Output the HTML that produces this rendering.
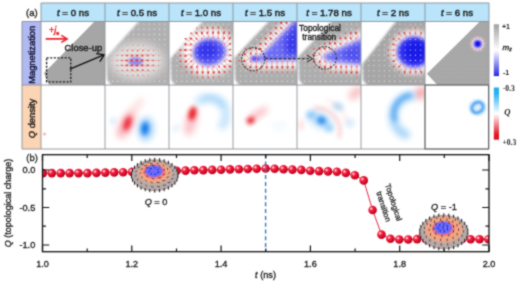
<!DOCTYPE html>
<html><head><meta charset="utf-8"><title>Figure</title>
<style>html,body{margin:0;padding:0;background:#fff;overflow:hidden}svg{display:block}</style>
</head><body>
<svg width="520" height="282" viewBox="0 0 520 282" font-family='"Liberation Sans", Arial, sans-serif'>
<defs>
<filter id="b1" x="-50%" y="-50%" width="200%" height="200%"><feGaussianBlur stdDeviation="1"/></filter>
<filter id="b2" x="-50%" y="-50%" width="200%" height="200%"><feGaussianBlur stdDeviation="2"/></filter>
<filter id="b3" x="-50%" y="-50%" width="200%" height="200%"><feGaussianBlur stdDeviation="3"/></filter>
<filter id="b4" x="-50%" y="-50%" width="200%" height="200%"><feGaussianBlur stdDeviation="4"/></filter>
<filter id="b05" x="-50%" y="-50%" width="200%" height="200%"><feGaussianBlur stdDeviation="0.5"/></filter>
<filter id="b08" x="-50%" y="-50%" width="200%" height="200%"><feGaussianBlur stdDeviation="0.8"/></filter>
<filter id="soft" x="-5%" y="-5%" width="110%" height="110%"><feGaussianBlur stdDeviation="0.45"/></filter>
<radialGradient id="sph" cx="0.34" cy="0.34" r="0.72">
<stop offset="0" stop-color="#fff4f4"/><stop offset="0.1" stop-color="#ffc0c8"/><stop offset="0.24" stop-color="#f63c58"/><stop offset="0.5" stop-color="#ea1030"/><stop offset="0.8" stop-color="#cc0824"/><stop offset="1" stop-color="#94001a"/></radialGradient>
<linearGradient id="cbm" x1="0" y1="0" x2="0" y2="1"><stop offset="0" stop-color="#a0a0a0"/><stop offset="0.5" stop-color="#ffffff"/><stop offset="1" stop-color="#2828e4"/></linearGradient>
<linearGradient id="cbq" x1="0" y1="0" x2="0" y2="1"><stop offset="0" stop-color="#1cb0f0"/><stop offset="0.12" stop-color="#2ab4f0"/><stop offset="0.5" stop-color="#ffffff"/><stop offset="0.9" stop-color="#e61824"/><stop offset="1" stop-color="#e0101c"/></linearGradient>
<marker id="ah" viewBox="0 0 10 10" refX="6" refY="5" markerWidth="3.2" markerHeight="3.2" orient="auto"><path d="M0,0 L10,5 L0,10 z" fill="#e8282c"/></marker>
</defs>
<rect width="520" height="282" fill="#fff"/>
<filter id="gsoft" x="0" y="0" width="520" height="282" filterUnits="userSpaceOnUse" color-interpolation-filters="sRGB"><feConvolveMatrix order="3" kernelMatrix="1 2 1 2 9 2 1 2 1" edgeMode="duplicate" preserveAlpha="false"/></filter>
<g filter="url(#gsoft)">
<rect width="520" height="282" fill="#fff"/>
<rect x="41" y="3" width="448" height="18" fill="#b9e4fa"/>
<rect x="22" y="21.5" width="19" height="63.5" fill="#b0b9f2"/>
<rect x="22" y="85" width="19" height="64" fill="#fcd5b4"/>
<clipPath id="cp0"><rect x="41" y="21" width="64" height="64"/></clipPath>
<clipPath id="cq0"><rect x="41" y="85" width="64" height="64"/></clipPath>
<clipPath id="cp1"><rect x="105" y="21" width="64" height="64"/></clipPath>
<clipPath id="cq1"><rect x="105" y="85" width="64" height="64"/></clipPath>
<clipPath id="cp2"><rect x="169" y="21" width="64" height="64"/></clipPath>
<clipPath id="cq2"><rect x="169" y="85" width="64" height="64"/></clipPath>
<clipPath id="cp3"><rect x="233" y="21" width="64" height="64"/></clipPath>
<clipPath id="cq3"><rect x="233" y="85" width="64" height="64"/></clipPath>
<clipPath id="cp4"><rect x="297" y="21" width="64" height="64"/></clipPath>
<clipPath id="cq4"><rect x="297" y="85" width="64" height="64"/></clipPath>
<clipPath id="cp5"><rect x="361" y="21" width="64" height="64"/></clipPath>
<clipPath id="cq5"><rect x="361" y="85" width="64" height="64"/></clipPath>
<clipPath id="cp6"><rect x="425" y="21" width="64" height="64"/></clipPath>
<clipPath id="cq6"><rect x="425" y="85" width="64" height="64"/></clipPath>
<g clip-path="url(#cp0)">
<polygon points="95,21 105,21 105,85 49,85 44,73" fill="#a6a6a6" filter="url(#soft)"/>
</g>
<g clip-path="url(#cp1)">
<polygon points="140,20 170,20 170,86 111.5,86 107,79.5 106.2,57.5" fill="#b1b1b1" filter="url(#b08)"/>
<ellipse cx="137" cy="61" rx="27" ry="18" transform="rotate(0 137 61)" fill="#ffffff" opacity="0.62" filter="url(#b4)" />
<ellipse cx="135.5" cy="61.5" rx="7.5" ry="4.2" transform="rotate(0 135.5 61.5)" fill="#8a8af4" opacity="0.95" filter="url(#b1)" />
<g fill="#ececec" opacity="0.9"><circle cx="138.7" cy="24.0" r="0.6"/><circle cx="143.9" cy="24.0" r="0.6"/><circle cx="149.1" cy="24.0" r="0.6"/><circle cx="154.3" cy="24.0" r="0.6"/><circle cx="159.5" cy="24.0" r="0.6"/><circle cx="164.7" cy="24.0" r="0.6"/><circle cx="133.5" cy="29.2" r="0.6"/><circle cx="138.7" cy="29.2" r="0.6"/><circle cx="143.9" cy="29.2" r="0.6"/><circle cx="149.1" cy="29.2" r="0.6"/><circle cx="154.3" cy="29.2" r="0.6"/><circle cx="159.5" cy="29.2" r="0.6"/><circle cx="164.7" cy="29.2" r="0.6"/><circle cx="128.3" cy="34.4" r="0.6"/><circle cx="133.5" cy="34.4" r="0.6"/><circle cx="138.7" cy="34.4" r="0.6"/><circle cx="143.9" cy="34.4" r="0.6"/><circle cx="149.1" cy="34.4" r="0.6"/><circle cx="154.3" cy="34.4" r="0.6"/><circle cx="159.5" cy="34.4" r="0.6"/><circle cx="164.7" cy="34.4" r="0.6"/><circle cx="123.1" cy="39.6" r="0.6"/><circle cx="128.3" cy="39.6" r="0.6"/><circle cx="133.5" cy="39.6" r="0.6"/><circle cx="138.7" cy="39.6" r="0.6"/><circle cx="143.9" cy="39.6" r="0.6"/><circle cx="149.1" cy="39.6" r="0.6"/><circle cx="154.3" cy="39.6" r="0.6"/><circle cx="159.5" cy="39.6" r="0.6"/><circle cx="164.7" cy="39.6" r="0.6"/><circle cx="117.9" cy="44.8" r="0.6"/><circle cx="123.1" cy="44.8" r="0.6"/><circle cx="128.3" cy="44.8" r="0.6"/><circle cx="133.5" cy="44.8" r="0.6"/><circle cx="138.7" cy="44.8" r="0.6"/><circle cx="143.9" cy="44.8" r="0.6"/><circle cx="149.1" cy="44.8" r="0.6"/><circle cx="154.3" cy="44.8" r="0.6"/><circle cx="159.5" cy="44.8" r="0.6"/><circle cx="164.7" cy="44.8" r="0.6"/><circle cx="117.9" cy="50.0" r="0.6"/><circle cx="123.1" cy="50.0" r="0.6"/><circle cx="128.3" cy="50.0" r="0.6"/><circle cx="133.5" cy="50.0" r="0.6"/><circle cx="138.7" cy="50.0" r="0.6"/><circle cx="143.9" cy="50.0" r="0.6"/><circle cx="149.1" cy="50.0" r="0.6"/><circle cx="154.3" cy="50.0" r="0.6"/><circle cx="159.5" cy="50.0" r="0.6"/><circle cx="164.7" cy="50.0" r="0.6"/><circle cx="112.7" cy="55.2" r="0.6"/><circle cx="117.9" cy="55.2" r="0.6"/><circle cx="123.1" cy="55.2" r="0.6"/><circle cx="128.3" cy="55.2" r="0.6"/><circle cx="133.5" cy="55.2" r="0.6"/><circle cx="138.7" cy="55.2" r="0.6"/><circle cx="143.9" cy="55.2" r="0.6"/><circle cx="149.1" cy="55.2" r="0.6"/><circle cx="154.3" cy="55.2" r="0.6"/><circle cx="159.5" cy="55.2" r="0.6"/><circle cx="164.7" cy="55.2" r="0.6"/><circle cx="107.5" cy="60.4" r="0.6"/><circle cx="112.7" cy="60.4" r="0.6"/><circle cx="117.9" cy="60.4" r="0.6"/><circle cx="123.1" cy="60.4" r="0.6"/><circle cx="128.3" cy="60.4" r="0.6"/><circle cx="133.5" cy="60.4" r="0.6"/><circle cx="138.7" cy="60.4" r="0.6"/><circle cx="143.9" cy="60.4" r="0.6"/><circle cx="149.1" cy="60.4" r="0.6"/><circle cx="154.3" cy="60.4" r="0.6"/><circle cx="159.5" cy="60.4" r="0.6"/><circle cx="164.7" cy="60.4" r="0.6"/><circle cx="107.5" cy="65.6" r="0.6"/><circle cx="112.7" cy="65.6" r="0.6"/><circle cx="117.9" cy="65.6" r="0.6"/><circle cx="123.1" cy="65.6" r="0.6"/><circle cx="128.3" cy="65.6" r="0.6"/><circle cx="133.5" cy="65.6" r="0.6"/><circle cx="138.7" cy="65.6" r="0.6"/><circle cx="143.9" cy="65.6" r="0.6"/><circle cx="149.1" cy="65.6" r="0.6"/><circle cx="154.3" cy="65.6" r="0.6"/><circle cx="159.5" cy="65.6" r="0.6"/><circle cx="164.7" cy="65.6" r="0.6"/><circle cx="107.5" cy="70.8" r="0.6"/><circle cx="112.7" cy="70.8" r="0.6"/><circle cx="117.9" cy="70.8" r="0.6"/><circle cx="123.1" cy="70.8" r="0.6"/><circle cx="128.3" cy="70.8" r="0.6"/><circle cx="133.5" cy="70.8" r="0.6"/><circle cx="138.7" cy="70.8" r="0.6"/><circle cx="143.9" cy="70.8" r="0.6"/><circle cx="149.1" cy="70.8" r="0.6"/><circle cx="154.3" cy="70.8" r="0.6"/><circle cx="159.5" cy="70.8" r="0.6"/><circle cx="164.7" cy="70.8" r="0.6"/><circle cx="107.5" cy="76.0" r="0.6"/><circle cx="112.7" cy="76.0" r="0.6"/><circle cx="117.9" cy="76.0" r="0.6"/><circle cx="123.1" cy="76.0" r="0.6"/><circle cx="128.3" cy="76.0" r="0.6"/><circle cx="133.5" cy="76.0" r="0.6"/><circle cx="138.7" cy="76.0" r="0.6"/><circle cx="143.9" cy="76.0" r="0.6"/><circle cx="149.1" cy="76.0" r="0.6"/><circle cx="154.3" cy="76.0" r="0.6"/><circle cx="159.5" cy="76.0" r="0.6"/><circle cx="164.7" cy="76.0" r="0.6"/><circle cx="112.7" cy="81.2" r="0.6"/><circle cx="117.9" cy="81.2" r="0.6"/><circle cx="123.1" cy="81.2" r="0.6"/><circle cx="128.3" cy="81.2" r="0.6"/><circle cx="133.5" cy="81.2" r="0.6"/><circle cx="138.7" cy="81.2" r="0.6"/><circle cx="143.9" cy="81.2" r="0.6"/><circle cx="149.1" cy="81.2" r="0.6"/><circle cx="154.3" cy="81.2" r="0.6"/><circle cx="159.5" cy="81.2" r="0.6"/><circle cx="164.7" cy="81.2" r="0.6"/></g>
<g filter="url(#b05)"><path d="M129.0,38.5L128.2,39.8" stroke="#f6988c" stroke-width="0.85" opacity="0.3147815159964582"/><path d="M127.6,40.7L127.8,39.6L128.6,40.1z" fill="#e23034" opacity="0.3147815159964582"/><path d="M134.2,38.5L133.4,39.8" stroke="#f6988c" stroke-width="0.85" opacity="0.34349961543450935"/><path d="M132.8,40.7L133.0,39.6L133.8,40.1z" fill="#e23034" opacity="0.34349961543450935"/><path d="M139.4,38.5L138.6,39.8" stroke="#f6988c" stroke-width="0.85" opacity="0.3517982179936051"/><path d="M138.0,40.7L138.2,39.6L139.0,40.1z" fill="#e23034" opacity="0.3517982179936051"/><path d="M144.6,38.5L143.8,39.8" stroke="#f6988c" stroke-width="0.85" opacity="0.3375548718659858"/><path d="M143.2,40.7L143.4,39.6L144.2,40.1z" fill="#e23034" opacity="0.3375548718659858"/><path d="M149.8,38.5L149.0,39.8" stroke="#f6988c" stroke-width="0.85" opacity="0.30439808320350514"/><path d="M148.4,40.7L148.6,39.6L149.4,40.1z" fill="#e23034" opacity="0.30439808320350514"/><path d="M118.9,43.9L117.7,45.0" stroke="#f6988c" stroke-width="0.85" opacity="0.3496801520235783"/><path d="M116.9,45.7L117.4,44.6L118.0,45.3z" fill="#e23034" opacity="0.3496801520235783"/><path d="M124.1,43.9L122.9,45.0" stroke="#f6988c" stroke-width="0.85" opacity="0.4390701652693965"/><path d="M122.1,45.7L122.6,44.6L123.2,45.3z" fill="#e23034" opacity="0.4390701652693965"/><path d="M129.4,43.8L128.1,45.0" stroke="#f6988c" stroke-width="0.85" opacity="0.5184370208339604"/><path d="M127.2,45.8L127.7,44.6L128.5,45.4z" fill="#e23034" opacity="0.5184370208339604"/><path d="M134.7,43.6L133.3,45.0" stroke="#f6988c" stroke-width="0.85" opacity="0.5712088354903284"/><path d="M132.3,46.0L132.8,44.6L133.7,45.5z" fill="#e23034" opacity="0.5712088354903284"/><path d="M140.0,43.6L138.4,45.0" stroke="#f6988c" stroke-width="0.85" opacity="0.5862359642404706"/><path d="M137.4,46.0L138.0,44.6L138.9,45.5z" fill="#e23034" opacity="0.5862359642404706"/><path d="M145.1,43.6L143.7,45.0" stroke="#f6988c" stroke-width="0.85" opacity="0.5603830693136163"/><path d="M142.7,46.0L143.2,44.6L144.1,45.5z" fill="#e23034" opacity="0.5603830693136163"/><path d="M150.1,43.8L148.9,45.0" stroke="#f6988c" stroke-width="0.85" opacity="0.4990596115883237"/><path d="M148.1,45.8L148.5,44.6L149.2,45.4z" fill="#e23034" opacity="0.4990596115883237"/><path d="M155.3,43.9L154.1,45.0" stroke="#f6988c" stroke-width="0.85" opacity="0.41524258472081305"/><path d="M153.3,45.7L153.8,44.6L154.4,45.3z" fill="#e23034" opacity="0.41524258472081305"/><path d="M160.5,43.9L159.3,45.0" stroke="#f6988c" stroke-width="0.85" opacity="0.32616991674297335"/><path d="M158.5,45.7L159.0,44.6L159.6,45.3z" fill="#e23034" opacity="0.32616991674297335"/><path d="M119.2,49.3L117.6,50.1" stroke="#f6988c" stroke-width="0.85" opacity="0.505861861741168"/><path d="M116.6,50.7L117.4,49.7L117.9,50.6z" fill="#e23034" opacity="0.505861861741168"/><path d="M124.8,49.0L122.8,50.2" stroke="#f6988c" stroke-width="0.85" opacity="0.6423033196509038"/><path d="M121.4,51.0L122.4,49.6L123.1,50.8z" fill="#e23034" opacity="0.6423033196509038"/><path d="M130.4,48.8L127.9,50.2" stroke="#f6988c" stroke-width="0.85" opacity="0.7578629371641623"/><path d="M126.2,51.2L127.4,49.5L128.3,51.0z" fill="#e23034" opacity="0.7578629371641623"/><path d="M135.8,48.7L133.0,50.3" stroke="#f6988c" stroke-width="0.85" opacity="0.8314962843976338"/><path d="M131.2,51.3L132.5,49.4L133.5,51.1z" fill="#e23034" opacity="0.8314962843976338"/><path d="M141.1,48.6L138.2,50.3" stroke="#f6988c" stroke-width="0.85" opacity="0.8519436866624825"/><path d="M136.3,51.4L137.7,49.4L138.7,51.1z" fill="#e23034" opacity="0.8519436866624825"/><path d="M146.2,48.7L143.4,50.3" stroke="#f6988c" stroke-width="0.85" opacity="0.8166174761426069"/><path d="M141.6,51.3L143.0,49.4L143.9,51.1z" fill="#e23034" opacity="0.8166174761426069"/><path d="M151.1,48.8L148.7,50.2" stroke="#f6988c" stroke-width="0.85" opacity="0.7301595609855125"/><path d="M147.1,51.2L148.3,49.5L149.1,51.0z" fill="#e23034" opacity="0.7301595609855125"/><path d="M155.9,49.1L154.0,50.2" stroke="#f6988c" stroke-width="0.85" opacity="0.6065679716879124"/><path d="M152.7,50.9L153.6,49.6L154.3,50.8z" fill="#e23034" opacity="0.6065679716879124"/><path d="M160.7,49.3L159.3,50.1" stroke="#f6988c" stroke-width="0.85" opacity="0.46890069392860956"/><path d="M158.3,50.7L159.0,49.7L159.5,50.5z" fill="#e23034" opacity="0.46890069392860956"/><path d="M165.9,49.3L164.5,50.1" stroke="#f6988c" stroke-width="0.85" opacity="0.34228616039873516"/><path d="M163.5,50.7L164.2,49.7L164.7,50.5z" fill="#e23034" opacity="0.34228616039873516"/><path d="M114.0,54.8L112.4,55.3" stroke="#f6988c" stroke-width="0.85" opacity="0.47253007870531866"/><path d="M111.4,55.6L112.3,54.8L112.6,55.7z" fill="#e23034" opacity="0.47253007870531866"/><path d="M119.8,54.6L117.5,55.3" stroke="#f6988c" stroke-width="0.85" opacity="0.6438013184721487"/><path d="M116.0,55.8L117.3,54.6L117.7,56.0z" fill="#e23034" opacity="0.6438013184721487"/><path d="M125.6,54.5L122.6,55.3" stroke="#f6988c" stroke-width="0.85" opacity="0.8131481795938664"/><path d="M120.6,55.9L122.3,54.4L122.9,56.3z" fill="#e23034" opacity="0.8131481795938664"/><path d="M131.3,54.3L127.7,55.4" stroke="#f6988c" stroke-width="0.85" opacity="0.948144056089979"/><path d="M125.3,56.1L127.4,54.3L128.0,56.5z" fill="#e23034" opacity="0.948144056089979"/><path d="M136.8,54.2L132.8,55.4" stroke="#f6988c" stroke-width="0.85" opacity="1"/><path d="M130.2,56.2L132.5,54.2L133.2,56.6z" fill="#e23034" opacity="1"/><path d="M142.1,54.2L138.0,55.4" stroke="#f6988c" stroke-width="0.85" opacity="1"/><path d="M135.3,56.2L137.7,54.2L138.4,56.6z" fill="#e23034" opacity="1"/><path d="M147.2,54.2L143.2,55.4" stroke="#f6988c" stroke-width="0.85" opacity="1"/><path d="M140.6,56.2L142.9,54.2L143.6,56.6z" fill="#e23034" opacity="1"/><path d="M152.0,54.3L148.5,55.4" stroke="#f6988c" stroke-width="0.85" opacity="0.91668594325461"/><path d="M146.2,56.1L148.2,54.3L148.8,56.4z" fill="#e23034" opacity="0.91668594325461"/><path d="M156.7,54.5L153.8,55.3" stroke="#f6988c" stroke-width="0.85" opacity="0.7696846074864019"/><path d="M151.9,55.9L153.6,54.5L154.1,56.2z" fill="#e23034" opacity="0.7696846074864019"/><path d="M161.2,54.7L159.2,55.3" stroke="#f6988c" stroke-width="0.85" opacity="0.596475244875422"/><path d="M157.8,55.7L159.0,54.7L159.3,55.9z" fill="#e23034" opacity="0.596475244875422"/><path d="M166.0,54.8L164.4,55.3" stroke="#f6988c" stroke-width="0.85" opacity="0.430190713505755"/><path d="M163.4,55.6L164.3,54.8L164.6,55.7z" fill="#e23034" opacity="0.430190713505755"/><path d="M108.8,60.3L107.2,60.4" stroke="#f6988c" stroke-width="0.85" opacity="0.3605278141027673"/><path d="M106.2,60.5L107.2,59.9L107.3,60.9z" fill="#e23034" opacity="0.3605278141027673"/><path d="M114.2,60.3L112.4,60.4" stroke="#f6988c" stroke-width="0.85" opacity="0.5220798845828851"/><path d="M111.2,60.5L112.4,59.9L112.4,61.0z" fill="#e23034" opacity="0.5220798845828851"/><path d="M120.1,60.3L117.5,60.4" stroke="#f6988c" stroke-width="0.85" opacity="0.711034790405621"/><path d="M115.7,60.5L117.4,59.6L117.5,61.2z" fill="#e23034" opacity="0.711034790405621"/><path d="M126.0,60.3L122.5,60.4" stroke="#f6988c" stroke-width="0.85" opacity="0.8927038675673061"/><path d="M120.2,60.5L122.5,59.4L122.6,61.5z" fill="#e23034" opacity="0.8927038675673061"/><path d="M131.8,60.2L127.6,60.4" stroke="#f6988c" stroke-width="0.85" opacity="1"/><path d="M124.8,60.6L127.5,59.2L127.7,61.7z" fill="#e23034" opacity="1"/><path d="M137.2,60.2L132.8,60.4" stroke="#f6988c" stroke-width="0.85" opacity="1"/><path d="M129.8,60.6L132.7,59.1L132.8,61.8z" fill="#e23034" opacity="1"/><path d="M142.5,60.2L137.9,60.4" stroke="#f6988c" stroke-width="0.85" opacity="1"/><path d="M134.9,60.6L137.9,59.1L138.0,61.8z" fill="#e23034" opacity="1"/><path d="M147.6,60.2L143.2,60.4" stroke="#f6988c" stroke-width="0.85" opacity="1"/><path d="M140.2,60.6L143.1,59.1L143.2,61.8z" fill="#e23034" opacity="1"/><path d="M152.4,60.2L148.4,60.4" stroke="#f6988c" stroke-width="0.85" opacity="0.9993972163596896"/><path d="M145.8,60.6L148.4,59.2L148.5,61.6z" fill="#e23034" opacity="0.9993972163596896"/><path d="M157.1,60.3L153.7,60.4" stroke="#f6988c" stroke-width="0.85" opacity="0.8467273963103151"/><path d="M151.5,60.5L153.7,59.4L153.8,61.4z" fill="#e23034" opacity="0.8467273963103151"/><path d="M161.5,60.3L159.1,60.4" stroke="#f6988c" stroke-width="0.85" opacity="0.6592576367614035"/><path d="M157.5,60.5L159.1,59.7L159.1,61.2z" fill="#e23034" opacity="0.6592576367614035"/><path d="M166.0,60.3L164.4,60.4" stroke="#f6988c" stroke-width="0.85" opacity="0.47474675352204276"/><path d="M163.4,60.5L164.4,59.9L164.5,60.9z" fill="#e23034" opacity="0.47474675352204276"/><path d="M108.8,65.8L107.2,65.6" stroke="#f6988c" stroke-width="0.85" opacity="0.34720690357622064"/><path d="M106.2,65.4L107.3,65.1L107.1,66.0z" fill="#e23034" opacity="0.34720690357622064"/><path d="M114.1,65.9L112.4,65.5" stroke="#f6988c" stroke-width="0.85" opacity="0.5013398495719243"/><path d="M111.3,65.3L112.5,65.0L112.3,66.1z" fill="#e23034" opacity="0.5013398495719243"/><path d="M120.0,66.0L117.5,65.5" stroke="#f6988c" stroke-width="0.85" opacity="0.683079093508468"/><path d="M115.8,65.2L117.6,64.8L117.3,66.3z" fill="#e23034" opacity="0.683079093508468"/><path d="M125.9,66.1L122.5,65.5" stroke="#f6988c" stroke-width="0.85" opacity="0.8599760335394597"/><path d="M120.3,65.1L122.7,64.5L122.4,66.5z" fill="#e23034" opacity="0.8599760335394597"/><path d="M131.6,66.2L127.6,65.5" stroke="#f6988c" stroke-width="0.85" opacity="0.997394399077582"/><path d="M125.0,65.0L127.9,64.3L127.4,66.7z" fill="#e23034" opacity="0.997394399077582"/><path d="M137.1,66.3L132.8,65.5" stroke="#f6988c" stroke-width="0.85" opacity="1"/><path d="M129.9,64.9L133.0,64.2L132.5,66.7z" fill="#e23034" opacity="1"/><path d="M142.3,66.3L138.0,65.5" stroke="#f6988c" stroke-width="0.85" opacity="1"/><path d="M135.1,64.9L138.2,64.2L137.7,66.8z" fill="#e23034" opacity="1"/><path d="M147.4,66.3L143.2,65.5" stroke="#f6988c" stroke-width="0.85" opacity="1"/><path d="M140.4,64.9L143.4,64.2L143.0,66.7z" fill="#e23034" opacity="1"/><path d="M152.3,66.2L148.5,65.5" stroke="#f6988c" stroke-width="0.85" opacity="0.965835927605697"/><path d="M145.9,65.0L148.7,64.3L148.3,66.6z" fill="#e23034" opacity="0.965835927605697"/><path d="M156.9,66.1L153.8,65.5" stroke="#f6988c" stroke-width="0.85" opacity="0.8149219954151318"/><path d="M151.7,65.1L154.0,64.6L153.6,66.4z" fill="#e23034" opacity="0.8149219954151318"/><path d="M161.4,66.0L159.1,65.5" stroke="#f6988c" stroke-width="0.85" opacity="0.6330989869303375"/><path d="M157.6,65.2L159.2,64.8L159.0,66.2z" fill="#e23034" opacity="0.6330989869303375"/><path d="M166.0,65.8L164.4,65.6" stroke="#f6988c" stroke-width="0.85" opacity="0.45607049775364766"/><path d="M163.4,65.4L164.5,65.1L164.3,66.0z" fill="#e23034" opacity="0.45607049775364766"/><path d="M108.7,71.3L107.3,70.7" stroke="#f6988c" stroke-width="0.85" opacity="0.29539011437239737"/><path d="M106.3,70.3L107.5,70.3L107.1,71.1z" fill="#e23034" opacity="0.29539011437239737"/><path d="M113.9,71.3L112.5,70.7" stroke="#f6988c" stroke-width="0.85" opacity="0.41928410532480076"/><path d="M111.5,70.3L112.7,70.3L112.3,71.1z" fill="#e23034" opacity="0.41928410532480076"/><path d="M119.5,71.5L117.6,70.7" stroke="#f6988c" stroke-width="0.85" opacity="0.5699021287439379"/><path d="M116.3,70.1L117.8,70.1L117.3,71.2z" fill="#e23034" opacity="0.5699021287439379"/><path d="M125.2,71.7L122.7,70.6" stroke="#f6988c" stroke-width="0.85" opacity="0.7227434122498073"/><path d="M121.0,69.9L123.0,69.9L122.3,71.4z" fill="#e23034" opacity="0.7227434122498073"/><path d="M130.8,71.9L127.8,70.6" stroke="#f6988c" stroke-width="0.85" opacity="0.849089753277048"/><path d="M125.8,69.7L128.2,69.7L127.4,71.5z" fill="#e23034" opacity="0.849089753277048"/><path d="M136.3,72.1L132.9,70.5" stroke="#f6988c" stroke-width="0.85" opacity="0.927500494770891"/><path d="M130.7,69.5L133.4,69.5L132.5,71.6z" fill="#e23034" opacity="0.927500494770891"/><path d="M141.6,72.1L138.1,70.5" stroke="#f6988c" stroke-width="0.85" opacity="0.948877709978959"/><path d="M135.8,69.5L138.6,69.5L137.7,71.6z" fill="#e23034" opacity="0.948877709978959"/><path d="M146.6,72.0L143.4,70.6" stroke="#f6988c" stroke-width="0.85" opacity="0.9118246780621109"/><path d="M141.2,69.6L143.8,69.6L142.9,71.5z" fill="#e23034" opacity="0.9118246780621109"/><path d="M151.5,71.9L148.6,70.6" stroke="#f6988c" stroke-width="0.85" opacity="0.8191178321699425"/><path d="M146.7,69.7L149.0,69.7L148.2,71.5z" fill="#e23034" opacity="0.8191178321699425"/><path d="M156.3,71.7L153.9,70.6" stroke="#f6988c" stroke-width="0.85" opacity="0.6830504964264628"/><path d="M152.3,69.9L154.2,69.9L153.6,71.3z" fill="#e23034" opacity="0.6830504964264628"/><path d="M160.9,71.4L159.2,70.7" stroke="#f6988c" stroke-width="0.85" opacity="0.5279394273425536"/><path d="M158.1,70.2L159.4,70.2L159.0,71.2z" fill="#e23034" opacity="0.5279394273425536"/><path d="M165.9,71.3L164.5,70.7" stroke="#f6988c" stroke-width="0.85" opacity="0.3825493628977368"/><path d="M163.5,70.3L164.7,70.3L164.3,71.1z" fill="#e23034" opacity="0.3825493628977368"/><path d="M113.8,76.8L112.5,75.8" stroke="#f6988c" stroke-width="0.85" opacity="0.3107359403191746"/><path d="M111.6,75.2L112.8,75.5L112.2,76.2z" fill="#e23034" opacity="0.3107359403191746"/><path d="M119.0,76.8L117.7,75.8" stroke="#f6988c" stroke-width="0.85" opacity="0.414172081338762"/><path d="M116.8,75.2L118.0,75.5L117.4,76.2z" fill="#e23034" opacity="0.414172081338762"/><path d="M124.3,76.9L122.9,75.8" stroke="#f6988c" stroke-width="0.85" opacity="0.5241528318062811"/><path d="M121.9,75.1L123.2,75.4L122.5,76.2z" fill="#e23034" opacity="0.5241528318062811"/><path d="M129.8,77.2L128.0,75.8" stroke="#f6988c" stroke-width="0.85" opacity="0.6200271817236938"/><path d="M126.8,74.8L128.4,75.2L127.6,76.3z" fill="#e23034" opacity="0.6200271817236938"/><path d="M135.2,77.3L133.2,75.7" stroke="#f6988c" stroke-width="0.85" opacity="0.6827931690830189"/><path d="M131.8,74.7L133.6,75.1L132.7,76.3z" fill="#e23034" opacity="0.6827931690830189"/><path d="M140.4,77.4L138.4,75.7" stroke="#f6988c" stroke-width="0.85" opacity="0.7005122046510983"/><path d="M137.0,74.6L138.8,75.1L137.9,76.4z" fill="#e23034" opacity="0.7005122046510983"/><path d="M145.6,77.3L143.6,75.7" stroke="#f6988c" stroke-width="0.85" opacity="0.6699847581246726"/><path d="M142.2,74.7L144.0,75.1L143.1,76.3z" fill="#e23034" opacity="0.6699847581246726"/><path d="M150.5,77.1L148.8,75.8" stroke="#f6988c" stroke-width="0.85" opacity="0.5967783296080499"/><path d="M147.7,74.9L149.2,75.3L148.4,76.3z" fill="#e23034" opacity="0.5967783296080499"/><path d="M155.4,76.9L154.1,75.8" stroke="#f6988c" stroke-width="0.85" opacity="0.49504084207851295"/><path d="M153.2,75.1L154.4,75.4L153.8,76.2z" fill="#e23034" opacity="0.49504084207851295"/><path d="M160.6,76.8L159.3,75.8" stroke="#f6988c" stroke-width="0.85" opacity="0.3848970336998166"/><path d="M158.4,75.2L159.6,75.5L159.0,76.2z" fill="#e23034" opacity="0.3848970336998166"/><path d="M165.8,76.8L164.5,75.8" stroke="#f6988c" stroke-width="0.85" opacity="0.2861842991349761"/><path d="M163.6,75.2L164.8,75.5L164.2,76.2z" fill="#e23034" opacity="0.2861842991349761"/><path d="M123.9,82.2L122.9,81.0" stroke="#f6988c" stroke-width="0.85" opacity="0.3353527043554908"/><path d="M122.3,80.2L123.3,80.7L122.6,81.3z" fill="#e23034" opacity="0.3353527043554908"/><path d="M129.1,82.2L128.1,81.0" stroke="#f6988c" stroke-width="0.85" opacity="0.39220889037094214"/><path d="M127.5,80.2L128.5,80.7L127.8,81.3z" fill="#e23034" opacity="0.39220889037094214"/><path d="M134.3,82.2L133.3,81.0" stroke="#f6988c" stroke-width="0.85" opacity="0.43067471856518197"/><path d="M132.7,80.2L133.7,80.7L133.0,81.3z" fill="#e23034" opacity="0.43067471856518197"/><path d="M139.5,82.2L138.5,81.0" stroke="#f6988c" stroke-width="0.85" opacity="0.4417291482616657"/><path d="M137.9,80.2L138.9,80.7L138.2,81.3z" fill="#e23034" opacity="0.4417291482616657"/><path d="M144.7,82.2L143.7,81.0" stroke="#f6988c" stroke-width="0.85" opacity="0.4227391385067084"/><path d="M143.1,80.2L144.1,80.7L143.4,81.3z" fill="#e23034" opacity="0.4227391385067084"/><path d="M149.9,82.2L148.9,81.0" stroke="#f6988c" stroke-width="0.85" opacity="0.37821910999631886"/><path d="M148.3,80.2L149.3,80.7L148.6,81.3z" fill="#e23034" opacity="0.37821910999631886"/><path d="M155.1,82.2L154.1,81.0" stroke="#f6988c" stroke-width="0.85" opacity="0.3185098930138637"/><path d="M153.5,80.2L154.5,80.7L153.8,81.3z" fill="#e23034" opacity="0.3185098930138637"/></g>
</g>
<g clip-path="url(#cp2)">
<polygon points="204,20 234,20 234,86 175.5,86 171,79.5 170.2,59" fill="#b0b0b0" filter="url(#b08)"/>
<ellipse cx="209.5" cy="52" rx="27" ry="24" transform="rotate(-10 209.5 52)" fill="#ffffff" opacity="0.95" filter="url(#b3)" />
<ellipse cx="194" cy="46" rx="14" ry="12" transform="rotate(-45 194 46)" fill="#ffffff" opacity="0.55" filter="url(#b4)" />
<ellipse cx="209.5" cy="52" rx="16.5" ry="13.5" transform="rotate(-10 209.5 52)" fill="#5858f4" opacity="1" filter="url(#b2)" />
<ellipse cx="207.5" cy="50.5" rx="10" ry="8" transform="rotate(0 207.5 50.5)" fill="#2c2cea" opacity="0.75" filter="url(#b2)" />
<g fill="#ececec" opacity="0.9"><circle cx="202.7" cy="24.0" r="0.6"/><circle cx="207.9" cy="24.0" r="0.6"/><circle cx="213.1" cy="24.0" r="0.6"/><circle cx="218.3" cy="24.0" r="0.6"/><circle cx="223.5" cy="24.0" r="0.6"/><circle cx="228.7" cy="24.0" r="0.6"/><circle cx="197.5" cy="29.2" r="0.6"/><circle cx="202.7" cy="29.2" r="0.6"/><circle cx="207.9" cy="29.2" r="0.6"/><circle cx="213.1" cy="29.2" r="0.6"/><circle cx="218.3" cy="29.2" r="0.6"/><circle cx="223.5" cy="29.2" r="0.6"/><circle cx="228.7" cy="29.2" r="0.6"/><circle cx="192.3" cy="34.4" r="0.6"/><circle cx="197.5" cy="34.4" r="0.6"/><circle cx="202.7" cy="34.4" r="0.6"/><circle cx="207.9" cy="34.4" r="0.6"/><circle cx="213.1" cy="34.4" r="0.6"/><circle cx="218.3" cy="34.4" r="0.6"/><circle cx="223.5" cy="34.4" r="0.6"/><circle cx="228.7" cy="34.4" r="0.6"/><circle cx="187.1" cy="39.6" r="0.6"/><circle cx="192.3" cy="39.6" r="0.6"/><circle cx="197.5" cy="39.6" r="0.6"/><circle cx="202.7" cy="39.6" r="0.6"/><circle cx="207.9" cy="39.6" r="0.6"/><circle cx="213.1" cy="39.6" r="0.6"/><circle cx="218.3" cy="39.6" r="0.6"/><circle cx="223.5" cy="39.6" r="0.6"/><circle cx="228.7" cy="39.6" r="0.6"/><circle cx="187.1" cy="44.8" r="0.6"/><circle cx="192.3" cy="44.8" r="0.6"/><circle cx="197.5" cy="44.8" r="0.6"/><circle cx="202.7" cy="44.8" r="0.6"/><circle cx="207.9" cy="44.8" r="0.6"/><circle cx="213.1" cy="44.8" r="0.6"/><circle cx="218.3" cy="44.8" r="0.6"/><circle cx="223.5" cy="44.8" r="0.6"/><circle cx="228.7" cy="44.8" r="0.6"/><circle cx="181.9" cy="50.0" r="0.6"/><circle cx="187.1" cy="50.0" r="0.6"/><circle cx="192.3" cy="50.0" r="0.6"/><circle cx="197.5" cy="50.0" r="0.6"/><circle cx="202.7" cy="50.0" r="0.6"/><circle cx="207.9" cy="50.0" r="0.6"/><circle cx="213.1" cy="50.0" r="0.6"/><circle cx="218.3" cy="50.0" r="0.6"/><circle cx="223.5" cy="50.0" r="0.6"/><circle cx="228.7" cy="50.0" r="0.6"/><circle cx="176.7" cy="55.2" r="0.6"/><circle cx="181.9" cy="55.2" r="0.6"/><circle cx="187.1" cy="55.2" r="0.6"/><circle cx="192.3" cy="55.2" r="0.6"/><circle cx="197.5" cy="55.2" r="0.6"/><circle cx="202.7" cy="55.2" r="0.6"/><circle cx="207.9" cy="55.2" r="0.6"/><circle cx="213.1" cy="55.2" r="0.6"/><circle cx="218.3" cy="55.2" r="0.6"/><circle cx="223.5" cy="55.2" r="0.6"/><circle cx="228.7" cy="55.2" r="0.6"/><circle cx="171.5" cy="60.4" r="0.6"/><circle cx="176.7" cy="60.4" r="0.6"/><circle cx="181.9" cy="60.4" r="0.6"/><circle cx="187.1" cy="60.4" r="0.6"/><circle cx="192.3" cy="60.4" r="0.6"/><circle cx="197.5" cy="60.4" r="0.6"/><circle cx="202.7" cy="60.4" r="0.6"/><circle cx="207.9" cy="60.4" r="0.6"/><circle cx="213.1" cy="60.4" r="0.6"/><circle cx="218.3" cy="60.4" r="0.6"/><circle cx="223.5" cy="60.4" r="0.6"/><circle cx="228.7" cy="60.4" r="0.6"/><circle cx="171.5" cy="65.6" r="0.6"/><circle cx="176.7" cy="65.6" r="0.6"/><circle cx="181.9" cy="65.6" r="0.6"/><circle cx="187.1" cy="65.6" r="0.6"/><circle cx="192.3" cy="65.6" r="0.6"/><circle cx="197.5" cy="65.6" r="0.6"/><circle cx="202.7" cy="65.6" r="0.6"/><circle cx="207.9" cy="65.6" r="0.6"/><circle cx="213.1" cy="65.6" r="0.6"/><circle cx="218.3" cy="65.6" r="0.6"/><circle cx="223.5" cy="65.6" r="0.6"/><circle cx="228.7" cy="65.6" r="0.6"/><circle cx="171.5" cy="70.8" r="0.6"/><circle cx="176.7" cy="70.8" r="0.6"/><circle cx="181.9" cy="70.8" r="0.6"/><circle cx="187.1" cy="70.8" r="0.6"/><circle cx="192.3" cy="70.8" r="0.6"/><circle cx="197.5" cy="70.8" r="0.6"/><circle cx="202.7" cy="70.8" r="0.6"/><circle cx="207.9" cy="70.8" r="0.6"/><circle cx="213.1" cy="70.8" r="0.6"/><circle cx="218.3" cy="70.8" r="0.6"/><circle cx="223.5" cy="70.8" r="0.6"/><circle cx="228.7" cy="70.8" r="0.6"/><circle cx="171.5" cy="76.0" r="0.6"/><circle cx="176.7" cy="76.0" r="0.6"/><circle cx="181.9" cy="76.0" r="0.6"/><circle cx="187.1" cy="76.0" r="0.6"/><circle cx="192.3" cy="76.0" r="0.6"/><circle cx="197.5" cy="76.0" r="0.6"/><circle cx="202.7" cy="76.0" r="0.6"/><circle cx="207.9" cy="76.0" r="0.6"/><circle cx="213.1" cy="76.0" r="0.6"/><circle cx="218.3" cy="76.0" r="0.6"/><circle cx="223.5" cy="76.0" r="0.6"/><circle cx="228.7" cy="76.0" r="0.6"/><circle cx="176.7" cy="81.2" r="0.6"/><circle cx="181.9" cy="81.2" r="0.6"/><circle cx="187.1" cy="81.2" r="0.6"/><circle cx="192.3" cy="81.2" r="0.6"/><circle cx="197.5" cy="81.2" r="0.6"/><circle cx="202.7" cy="81.2" r="0.6"/><circle cx="207.9" cy="81.2" r="0.6"/><circle cx="213.1" cy="81.2" r="0.6"/><circle cx="218.3" cy="81.2" r="0.6"/><circle cx="223.5" cy="81.2" r="0.6"/><circle cx="228.7" cy="81.2" r="0.6"/></g>
<g filter="url(#b05)"><path d="M199.0,31.5L197.2,28.7" stroke="#f6988c" stroke-width="0.9" opacity="0.5768376713964365"/><path d="M196.0,26.9L198.0,28.2L196.4,29.3z" fill="#e23034" opacity="0.5768376713964365"/><path d="M204.1,32.0L202.4,28.6" stroke="#f6988c" stroke-width="0.9" opacity="0.7658334309265274"/><path d="M201.3,26.4L203.4,28.1L201.4,29.1z" fill="#e23034" opacity="0.7658334309265274"/><path d="M208.9,32.4L207.7,28.6" stroke="#f6988c" stroke-width="0.9" opacity="0.8764000058907053"/><path d="M206.9,26.0L208.8,28.2L206.5,28.9z" fill="#e23034" opacity="0.8764000058907053"/><path d="M213.6,32.5L213.0,28.5" stroke="#f6988c" stroke-width="0.9" opacity="0.8923373608190891"/><path d="M212.6,25.9L214.2,28.4L211.8,28.7z" fill="#e23034" opacity="0.8923373608190891"/><path d="M218.3,32.4L218.3,28.6" stroke="#f6988c" stroke-width="0.9" opacity="0.8147688406494439"/><path d="M218.3,26.0L219.5,28.6L217.1,28.5z" fill="#e23034" opacity="0.8147688406494439"/><path d="M223.0,32.1L223.6,28.6" stroke="#f6988c" stroke-width="0.9" opacity="0.6472319118205685"/><path d="M224.0,26.3L224.6,28.8L222.6,28.5z" fill="#e23034" opacity="0.6472319118205685"/><path d="M228.0,31.6L228.8,28.7" stroke="#f6988c" stroke-width="0.9" opacity="0.4473117479013411"/><path d="M229.4,26.8L229.7,29.0L228.0,28.5z" fill="#e23034" opacity="0.4473117479013411"/><path d="M194.6,36.6L191.8,34.0" stroke="#f6988c" stroke-width="0.9" opacity="0.8217179501380981"/><path d="M190.0,32.2L192.6,33.1L191.0,34.8z" fill="#e23034" opacity="0.8217179501380981"/><path d="M199.8,37.3L197.0,33.8" stroke="#f6988c" stroke-width="0.9" opacity="1"/><path d="M195.2,31.5L198.1,33.0L196.0,34.6z" fill="#e23034" opacity="1"/><path d="M204.5,37.7L202.3,33.7" stroke="#f6988c" stroke-width="0.9" opacity="1"/><path d="M200.9,31.1L203.5,33.1L201.1,34.4z" fill="#e23034" opacity="1"/><path d="M209.0,37.9L207.7,33.7" stroke="#f6988c" stroke-width="0.9" opacity="1"/><path d="M206.8,30.9L208.9,33.3L206.4,34.1z" fill="#e23034" opacity="1"/><path d="M213.5,38.0L213.0,33.7" stroke="#f6988c" stroke-width="0.9" opacity="1"/><path d="M212.7,30.8L214.3,33.5L211.7,33.8z" fill="#e23034" opacity="1"/><path d="M218.0,38.1L218.4,33.7" stroke="#f6988c" stroke-width="0.9" opacity="1"/><path d="M218.6,30.7L219.7,33.8L217.0,33.5z" fill="#e23034" opacity="1"/><path d="M222.5,38.0L223.7,33.7" stroke="#f6988c" stroke-width="0.9" opacity="1"/><path d="M224.5,30.8L225.0,34.0L222.4,33.3z" fill="#e23034" opacity="1"/><path d="M227.3,37.4L229.0,33.8" stroke="#f6988c" stroke-width="0.9" opacity="0.8804555700589247"/><path d="M230.1,31.4L230.1,34.3L227.9,33.3z" fill="#e23034" opacity="0.8804555700589247"/><path d="M190.0,41.2L186.5,39.3" stroke="#f6988c" stroke-width="0.9" opacity="0.8662548074135965"/><path d="M184.2,38.0L187.1,38.2L185.9,40.3z" fill="#e23034" opacity="0.8662548074135965"/><path d="M195.4,41.8L191.7,39.2" stroke="#f6988c" stroke-width="0.9" opacity="1"/><path d="M189.2,37.4L192.5,38.0L190.9,40.3z" fill="#e23034" opacity="1"/><path d="M199.9,42.0L197.0,39.1" stroke="#f6988c" stroke-width="0.9" opacity="0.8937146058060188"/><path d="M195.1,37.2L197.9,38.3L196.2,40.0z" fill="#e23034" opacity="0.8937146058060188"/><path d="M204.3,41.9L202.4,39.1" stroke="#f6988c" stroke-width="0.9" opacity="0.6055775095673824"/><path d="M201.1,37.3L203.2,38.6L201.5,39.7z" fill="#e23034" opacity="0.6055775095673824"/><path d="M208.8,42.0L207.7,39.1" stroke="#f6988c" stroke-width="0.9" opacity="0.4677829114411705"/><path d="M207.0,37.2L208.6,38.8L206.9,39.4z" fill="#e23034" opacity="0.4677829114411705"/><path d="M213.2,42.1L213.1,39.1" stroke="#f6988c" stroke-width="0.9" opacity="0.46702182355468924"/><path d="M213.0,37.1L214.0,39.0L212.2,39.1z" fill="#e23034" opacity="0.46702182355468924"/><path d="M217.7,42.3L218.4,39.1" stroke="#f6988c" stroke-width="0.9" opacity="0.602895681783851"/><path d="M218.9,36.9L219.4,39.3L217.4,38.8z" fill="#e23034" opacity="0.602895681783851"/><path d="M222.0,42.6L223.8,39.0" stroke="#f6988c" stroke-width="0.9" opacity="0.8898102659201701"/><path d="M225.0,36.6L224.9,39.5L222.7,38.5z" fill="#e23034" opacity="0.8898102659201701"/><path d="M226.4,42.7L229.2,39.0" stroke="#f6988c" stroke-width="0.9" opacity="1"/><path d="M231.0,36.5L230.3,39.8L228.0,38.2z" fill="#e23034" opacity="1"/><path d="M190.7,45.9L186.4,44.6" stroke="#f6988c" stroke-width="0.9" opacity="1"/><path d="M183.5,43.7L186.8,43.3L186.0,45.9z" fill="#e23034" opacity="1"/><path d="M195.4,46.1L191.7,44.5" stroke="#f6988c" stroke-width="0.9" opacity="0.8917458266397092"/><path d="M189.2,43.5L192.1,43.4L191.2,45.7z" fill="#e23034" opacity="0.8917458266397092"/><path d="M199.7,46.1L197.1,44.5" stroke="#f6988c" stroke-width="0.9" opacity="0.47706385316022987"/><path d="M195.3,43.5L197.5,43.8L196.6,45.3z" fill="#e23034" opacity="0.47706385316022987"/><path d="M221.7,46.7L223.9,44.4" stroke="#f6988c" stroke-width="0.9" opacity="0.5279296628906178"/><path d="M225.3,42.9L224.6,45.1L223.2,43.8z" fill="#e23034" opacity="0.5279296628906178"/><path d="M225.9,46.9L229.3,44.4" stroke="#f6988c" stroke-width="0.9" opacity="0.9560811253240424"/><path d="M231.5,42.7L230.0,45.4L228.5,43.4z" fill="#e23034" opacity="0.9560811253240424"/><path d="M185.2,50.0L181.2,50.0" stroke="#f6988c" stroke-width="0.9" opacity="0.8580734860695829"/><path d="M178.6,50.0L181.2,48.8L181.3,51.2z" fill="#e23034" opacity="0.8580734860695829"/><path d="M190.9,50.0L186.3,50.0" stroke="#f6988c" stroke-width="0.9" opacity="1"/><path d="M183.3,50.0L186.4,48.6L186.3,51.4z" fill="#e23034" opacity="1"/><path d="M195.2,50.1L191.7,50.0" stroke="#f6988c" stroke-width="0.9" opacity="0.6687186865426856"/><path d="M189.4,49.9L191.8,48.9L191.7,51.0z" fill="#e23034" opacity="0.6687186865426856"/><path d="M225.6,50.9L229.3,49.8" stroke="#f6988c" stroke-width="0.9" opacity="0.8327397026388587"/><path d="M231.8,49.1L229.6,51.0L229.0,48.7z" fill="#e23034" opacity="0.8327397026388587"/><path d="M179.1,54.6L176.2,55.3" stroke="#f6988c" stroke-width="0.9" opacity="0.42791516350384073"/><path d="M174.3,55.8L176.0,54.5L176.5,56.2z" fill="#e23034" opacity="0.42791516350384073"/><path d="M185.1,54.2L181.3,55.4" stroke="#f6988c" stroke-width="0.9" opacity="0.8835579969380569"/><path d="M178.7,56.2L180.9,54.2L181.6,56.6z" fill="#e23034" opacity="0.8835579969380569"/><path d="M190.7,54.0L186.4,55.4" stroke="#f6988c" stroke-width="0.9" opacity="1"/><path d="M183.5,56.4L186.0,54.2L186.8,56.7z" fill="#e23034" opacity="1"/><path d="M195.0,54.1L191.8,55.4" stroke="#f6988c" stroke-width="0.9" opacity="0.6527492313334267"/><path d="M189.6,56.3L191.4,54.5L192.2,56.4z" fill="#e23034" opacity="0.6527492313334267"/><path d="M221.1,54.7L224.0,55.3" stroke="#f6988c" stroke-width="0.9" opacity="0.4419093456560006"/><path d="M225.9,55.7L223.8,56.2L224.2,54.4z" fill="#e23034" opacity="0.4419093456560006"/><path d="M225.3,54.8L229.4,55.3" stroke="#f6988c" stroke-width="0.9" opacity="0.8959655463679982"/><path d="M232.1,55.6L229.2,56.5L229.5,54.1z" fill="#e23034" opacity="0.8959655463679982"/><path d="M184.6,58.7L181.4,60.7" stroke="#f6988c" stroke-width="0.9" opacity="0.7720512265270335"/><path d="M179.2,62.1L180.8,59.8L182.0,61.7z" fill="#e23034" opacity="0.7720512265270335"/><path d="M190.1,58.1L186.5,60.9" stroke="#f6988c" stroke-width="0.9" opacity="1"/><path d="M184.1,62.7L185.7,59.8L187.3,61.9z" fill="#e23034" opacity="1"/><path d="M194.6,58.1L191.8,60.9" stroke="#f6988c" stroke-width="0.9" opacity="0.84934761843135"/><path d="M190.0,62.7L191.0,60.0L192.7,61.7z" fill="#e23034" opacity="0.84934761843135"/><path d="M198.9,58.3L197.2,60.8" stroke="#f6988c" stroke-width="0.9" opacity="0.4680612899287191"/><path d="M196.1,62.5L196.5,60.3L198.0,61.3z" fill="#e23034" opacity="0.4680612899287191"/><path d="M220.9,58.9L224.0,60.7" stroke="#f6988c" stroke-width="0.9" opacity="0.699106729679462"/><path d="M226.1,61.9L223.5,61.6L224.6,59.8z" fill="#e23034" opacity="0.699106729679462"/><path d="M225.3,58.9L229.4,60.7" stroke="#f6988c" stroke-width="0.9" opacity="1"/><path d="M232.1,61.9L228.9,61.9L229.9,59.5z" fill="#e23034" opacity="1"/><path d="M183.8,63.7L181.5,66.0" stroke="#f6988c" stroke-width="0.9" opacity="0.5466958461668395"/><path d="M180.0,67.5L180.8,65.3L182.2,66.7z" fill="#e23034" opacity="0.5466958461668395"/><path d="M189.3,62.9L186.7,66.1" stroke="#f6988c" stroke-width="0.9" opacity="0.9518181872090771"/><path d="M184.9,68.3L185.7,65.4L187.7,66.9z" fill="#e23034" opacity="0.9518181872090771"/><path d="M194.2,62.3L191.9,66.3" stroke="#f6988c" stroke-width="0.9" opacity="1"/><path d="M190.4,68.9L190.7,65.6L193.1,66.9z" fill="#e23034" opacity="1"/><path d="M198.6,62.4L197.3,66.2" stroke="#f6988c" stroke-width="0.9" opacity="0.8783231789241095"/><path d="M196.4,68.8L196.1,65.9L198.4,66.6z" fill="#e23034" opacity="0.8783231789241095"/><path d="M202.9,62.7L202.7,66.2" stroke="#f6988c" stroke-width="0.9" opacity="0.6493850330382746"/><path d="M202.5,68.5L201.6,66.1L203.7,66.3z" fill="#e23034" opacity="0.6493850330382746"/><path d="M207.4,62.9L208.0,66.1" stroke="#f6988c" stroke-width="0.9" opacity="0.5632583679379728"/><path d="M208.4,68.3L207.0,66.3L209.0,66.0z" fill="#e23034" opacity="0.5632583679379728"/><path d="M211.9,63.0L213.3,66.1" stroke="#f6988c" stroke-width="0.9" opacity="0.6226918831952805"/><path d="M214.3,68.2L212.4,66.5L214.3,65.7z" fill="#e23034" opacity="0.6226918831952805"/><path d="M216.3,63.0L218.7,66.1" stroke="#f6988c" stroke-width="0.9" opacity="0.8296823771076122"/><path d="M220.3,68.2L217.8,66.8L219.6,65.4z" fill="#e23034" opacity="0.8296823771076122"/><path d="M220.8,63.1L224.0,66.1" stroke="#f6988c" stroke-width="0.9" opacity="1"/><path d="M226.2,68.1L223.1,67.1L225.0,65.1z" fill="#e23034" opacity="1"/><path d="M225.7,63.5L229.3,66.0" stroke="#f6988c" stroke-width="0.9" opacity="1"/><path d="M231.7,67.7L228.5,67.1L230.0,64.9z" fill="#e23034" opacity="1"/><path d="M188.4,68.4L186.8,71.3" stroke="#f6988c" stroke-width="0.9" opacity="0.5773229337823318"/><path d="M185.8,73.2L186.0,70.8L187.7,71.7z" fill="#e23034" opacity="0.5773229337823318"/><path d="M193.4,67.6L192.1,71.4" stroke="#f6988c" stroke-width="0.9" opacity="0.8919268889414642"/><path d="M191.2,74.0L190.9,71.0L193.2,71.8z" fill="#e23034" opacity="0.8919268889414642"/><path d="M198.2,67.1L197.4,71.5" stroke="#f6988c" stroke-width="0.9" opacity="1"/><path d="M196.8,74.5L196.0,71.3L198.7,71.8z" fill="#e23034" opacity="1"/><path d="M202.7,67.0L202.7,71.6" stroke="#f6988c" stroke-width="0.9" opacity="1"/><path d="M202.7,74.6L201.3,71.6L204.1,71.5z" fill="#e23034" opacity="1"/><path d="M207.2,67.1L208.0,71.5" stroke="#f6988c" stroke-width="0.9" opacity="1"/><path d="M208.6,74.5L206.7,71.8L209.4,71.3z" fill="#e23034" opacity="1"/><path d="M211.7,67.3L213.4,71.5" stroke="#f6988c" stroke-width="0.9" opacity="1"/><path d="M214.5,74.3L212.1,72.0L214.7,71.0z" fill="#e23034" opacity="1"/><path d="M216.3,67.6L218.7,71.4" stroke="#f6988c" stroke-width="0.9" opacity="1"/><path d="M220.3,74.0L217.5,72.1L219.8,70.7z" fill="#e23034" opacity="1"/><path d="M221.3,68.2L223.9,71.3" stroke="#f6988c" stroke-width="0.9" opacity="0.8956981780063445"/><path d="M225.7,73.4L223.0,72.1L224.9,70.5z" fill="#e23034" opacity="0.8956981780063445"/><path d="M226.7,68.9L229.1,71.2" stroke="#f6988c" stroke-width="0.9" opacity="0.5815731241759479"/><path d="M230.7,72.7L228.4,71.9L229.8,70.4z" fill="#e23034" opacity="0.5815731241759479"/><path d="M192.9,73.6L192.2,76.5" stroke="#f6988c" stroke-width="0.9" opacity="0.43433182455353864"/><path d="M191.7,78.4L191.3,76.3L193.1,76.7z" fill="#e23034" opacity="0.43433182455353864"/><path d="M197.7,73.2L197.5,76.6" stroke="#f6988c" stroke-width="0.9" opacity="0.5936655752115818"/><path d="M197.3,78.8L196.5,76.5L198.4,76.6z" fill="#e23034" opacity="0.5936655752115818"/><path d="M202.5,73.0L202.7,76.6" stroke="#f6988c" stroke-width="0.9" opacity="0.716201696776988"/><path d="M202.9,79.0L201.6,76.7L203.8,76.5z" fill="#e23034" opacity="0.716201696776988"/><path d="M207.2,73.0L208.0,76.6" stroke="#f6988c" stroke-width="0.9" opacity="0.7554798634089581"/><path d="M208.6,79.0L206.9,76.8L209.1,76.4z" fill="#e23034" opacity="0.7554798634089581"/><path d="M212.1,73.2L213.3,76.6" stroke="#f6988c" stroke-width="0.9" opacity="0.7022828466101569"/><path d="M214.1,78.8L212.3,76.9L214.3,76.2z" fill="#e23034" opacity="0.7022828466101569"/><path d="M217.0,73.6L218.6,76.5" stroke="#f6988c" stroke-width="0.9" opacity="0.5699021304811924"/><path d="M219.6,78.4L217.7,76.9L219.4,76.0z" fill="#e23034" opacity="0.5699021304811924"/></g>
</g>
<g clip-path="url(#cp3)">
<polygon points="270,20 298,20 298,86 239.5,86 235,79.5 234.2,58" fill="#adadad" filter="url(#b08)"/>
<polygon points="249.5,58.5 261,55.5 296,19 300,19 300,60.5 256,61.5" fill="#ffffff" opacity="0.95" filter="url(#b3)" stroke="#fff" stroke-width="15" stroke-linejoin="round"/>
<polygon points="249.5,58.5 261,55.5 296,19 300,19 300,60.5 256,61.5" fill="#6666f4" opacity="0.95" filter="url(#b2)" />
<polygon points="285,40 296,24 300,22 300,54 286,54" fill="#2626ea" opacity="0.75" filter="url(#b3)" />
<ellipse cx="254.5" cy="58.5" rx="4.5" ry="2.6" transform="rotate(0 254.5 58.5)" fill="#5050f4" opacity="0.9" filter="url(#b1)" />
<g fill="#ececec" opacity="0.9"><circle cx="266.7" cy="24.0" r="0.6"/><circle cx="271.9" cy="24.0" r="0.6"/><circle cx="277.1" cy="24.0" r="0.6"/><circle cx="282.3" cy="24.0" r="0.6"/><circle cx="287.5" cy="24.0" r="0.6"/><circle cx="292.7" cy="24.0" r="0.6"/><circle cx="261.5" cy="29.2" r="0.6"/><circle cx="266.7" cy="29.2" r="0.6"/><circle cx="271.9" cy="29.2" r="0.6"/><circle cx="277.1" cy="29.2" r="0.6"/><circle cx="282.3" cy="29.2" r="0.6"/><circle cx="287.5" cy="29.2" r="0.6"/><circle cx="292.7" cy="29.2" r="0.6"/><circle cx="261.5" cy="34.4" r="0.6"/><circle cx="266.7" cy="34.4" r="0.6"/><circle cx="271.9" cy="34.4" r="0.6"/><circle cx="277.1" cy="34.4" r="0.6"/><circle cx="282.3" cy="34.4" r="0.6"/><circle cx="287.5" cy="34.4" r="0.6"/><circle cx="292.7" cy="34.4" r="0.6"/><circle cx="256.3" cy="39.6" r="0.6"/><circle cx="261.5" cy="39.6" r="0.6"/><circle cx="266.7" cy="39.6" r="0.6"/><circle cx="271.9" cy="39.6" r="0.6"/><circle cx="277.1" cy="39.6" r="0.6"/><circle cx="282.3" cy="39.6" r="0.6"/><circle cx="287.5" cy="39.6" r="0.6"/><circle cx="292.7" cy="39.6" r="0.6"/><circle cx="251.1" cy="44.8" r="0.6"/><circle cx="256.3" cy="44.8" r="0.6"/><circle cx="261.5" cy="44.8" r="0.6"/><circle cx="266.7" cy="44.8" r="0.6"/><circle cx="271.9" cy="44.8" r="0.6"/><circle cx="277.1" cy="44.8" r="0.6"/><circle cx="282.3" cy="44.8" r="0.6"/><circle cx="287.5" cy="44.8" r="0.6"/><circle cx="292.7" cy="44.8" r="0.6"/><circle cx="245.9" cy="50.0" r="0.6"/><circle cx="251.1" cy="50.0" r="0.6"/><circle cx="256.3" cy="50.0" r="0.6"/><circle cx="261.5" cy="50.0" r="0.6"/><circle cx="266.7" cy="50.0" r="0.6"/><circle cx="271.9" cy="50.0" r="0.6"/><circle cx="277.1" cy="50.0" r="0.6"/><circle cx="282.3" cy="50.0" r="0.6"/><circle cx="287.5" cy="50.0" r="0.6"/><circle cx="292.7" cy="50.0" r="0.6"/><circle cx="240.7" cy="55.2" r="0.6"/><circle cx="245.9" cy="55.2" r="0.6"/><circle cx="251.1" cy="55.2" r="0.6"/><circle cx="256.3" cy="55.2" r="0.6"/><circle cx="261.5" cy="55.2" r="0.6"/><circle cx="266.7" cy="55.2" r="0.6"/><circle cx="271.9" cy="55.2" r="0.6"/><circle cx="277.1" cy="55.2" r="0.6"/><circle cx="282.3" cy="55.2" r="0.6"/><circle cx="287.5" cy="55.2" r="0.6"/><circle cx="292.7" cy="55.2" r="0.6"/><circle cx="235.5" cy="60.4" r="0.6"/><circle cx="240.7" cy="60.4" r="0.6"/><circle cx="245.9" cy="60.4" r="0.6"/><circle cx="251.1" cy="60.4" r="0.6"/><circle cx="256.3" cy="60.4" r="0.6"/><circle cx="261.5" cy="60.4" r="0.6"/><circle cx="266.7" cy="60.4" r="0.6"/><circle cx="271.9" cy="60.4" r="0.6"/><circle cx="277.1" cy="60.4" r="0.6"/><circle cx="282.3" cy="60.4" r="0.6"/><circle cx="287.5" cy="60.4" r="0.6"/><circle cx="292.7" cy="60.4" r="0.6"/><circle cx="235.5" cy="65.6" r="0.6"/><circle cx="240.7" cy="65.6" r="0.6"/><circle cx="245.9" cy="65.6" r="0.6"/><circle cx="251.1" cy="65.6" r="0.6"/><circle cx="256.3" cy="65.6" r="0.6"/><circle cx="261.5" cy="65.6" r="0.6"/><circle cx="266.7" cy="65.6" r="0.6"/><circle cx="271.9" cy="65.6" r="0.6"/><circle cx="277.1" cy="65.6" r="0.6"/><circle cx="282.3" cy="65.6" r="0.6"/><circle cx="287.5" cy="65.6" r="0.6"/><circle cx="292.7" cy="65.6" r="0.6"/><circle cx="235.5" cy="70.8" r="0.6"/><circle cx="240.7" cy="70.8" r="0.6"/><circle cx="245.9" cy="70.8" r="0.6"/><circle cx="251.1" cy="70.8" r="0.6"/><circle cx="256.3" cy="70.8" r="0.6"/><circle cx="261.5" cy="70.8" r="0.6"/><circle cx="266.7" cy="70.8" r="0.6"/><circle cx="271.9" cy="70.8" r="0.6"/><circle cx="277.1" cy="70.8" r="0.6"/><circle cx="282.3" cy="70.8" r="0.6"/><circle cx="287.5" cy="70.8" r="0.6"/><circle cx="292.7" cy="70.8" r="0.6"/><circle cx="235.5" cy="76.0" r="0.6"/><circle cx="240.7" cy="76.0" r="0.6"/><circle cx="245.9" cy="76.0" r="0.6"/><circle cx="251.1" cy="76.0" r="0.6"/><circle cx="256.3" cy="76.0" r="0.6"/><circle cx="261.5" cy="76.0" r="0.6"/><circle cx="266.7" cy="76.0" r="0.6"/><circle cx="271.9" cy="76.0" r="0.6"/><circle cx="277.1" cy="76.0" r="0.6"/><circle cx="282.3" cy="76.0" r="0.6"/><circle cx="287.5" cy="76.0" r="0.6"/><circle cx="292.7" cy="76.0" r="0.6"/><circle cx="240.7" cy="81.2" r="0.6"/><circle cx="245.9" cy="81.2" r="0.6"/><circle cx="251.1" cy="81.2" r="0.6"/><circle cx="256.3" cy="81.2" r="0.6"/><circle cx="261.5" cy="81.2" r="0.6"/><circle cx="266.7" cy="81.2" r="0.6"/><circle cx="271.9" cy="81.2" r="0.6"/><circle cx="277.1" cy="81.2" r="0.6"/><circle cx="282.3" cy="81.2" r="0.6"/><circle cx="287.5" cy="81.2" r="0.6"/><circle cx="292.7" cy="81.2" r="0.6"/></g>
<g filter="url(#b05)"><path d="M279.0,25.8L276.7,23.6" stroke="#f6988c" stroke-width="0.9" opacity="0.5649763566872281"/><path d="M275.2,22.2L277.4,22.9L276.1,24.3z" fill="#e23034" opacity="0.5649763566872281"/><path d="M284.9,26.5L281.8,23.5" stroke="#f6988c" stroke-width="0.9" opacity="1"/><path d="M279.7,21.5L282.7,22.6L280.9,24.4z" fill="#e23034" opacity="1"/><path d="M290.0,26.4L287.0,23.5" stroke="#f6988c" stroke-width="0.9" opacity="0.9459283752060116"/><path d="M285.0,21.6L287.9,22.6L286.2,24.4z" fill="#e23034" opacity="0.9459283752060116"/><path d="M294.5,25.7L292.3,23.7" stroke="#f6988c" stroke-width="0.9" opacity="0.4667429208169026"/><path d="M290.9,22.3L293.0,23.0L291.7,24.3z" fill="#e23034" opacity="0.4667429208169026"/><path d="M273.8,31.0L271.5,28.8" stroke="#f6988c" stroke-width="0.9" opacity="0.5466369276226659"/><path d="M270.0,27.4L272.2,28.2L270.9,29.5z" fill="#e23034" opacity="0.5466369276226659"/><path d="M279.7,31.7L276.6,28.7" stroke="#f6988c" stroke-width="0.9" opacity="1"/><path d="M274.5,26.7L277.5,27.8L275.7,29.6z" fill="#e23034" opacity="1"/><path d="M284.8,31.6L281.8,28.7" stroke="#f6988c" stroke-width="0.9" opacity="0.9640099964871184"/><path d="M279.8,26.8L282.7,27.8L280.9,29.6z" fill="#e23034" opacity="0.9640099964871184"/><path d="M289.3,30.9L287.1,28.9" stroke="#f6988c" stroke-width="0.9" opacity="0.48210308538788205"/><path d="M285.7,27.5L287.8,28.2L286.5,29.5z" fill="#e23034" opacity="0.48210308538788205"/><path d="M268.6,36.2L266.3,34.0" stroke="#f6988c" stroke-width="0.9" opacity="0.5288741401455502"/><path d="M264.8,32.6L267.0,33.4L265.7,34.7z" fill="#e23034" opacity="0.5288741401455502"/><path d="M274.4,36.8L271.4,33.9" stroke="#f6988c" stroke-width="0.9" opacity="1"/><path d="M269.4,32.0L272.3,33.0L270.5,34.8z" fill="#e23034" opacity="1"/><path d="M279.6,36.8L276.6,33.9" stroke="#f6988c" stroke-width="0.9" opacity="0.9812734578844325"/><path d="M274.6,32.0L277.5,33.0L275.7,34.8z" fill="#e23034" opacity="0.9812734578844325"/><path d="M284.1,36.1L281.9,34.1" stroke="#f6988c" stroke-width="0.9" opacity="0.49811480334198144"/><path d="M280.5,32.7L282.6,33.4L281.3,34.7z" fill="#e23034" opacity="0.49811480334198144"/><path d="M263.3,41.4L261.1,39.2" stroke="#f6988c" stroke-width="0.9" opacity="0.5117140540586724"/><path d="M259.7,37.8L261.8,38.6L260.5,39.9z" fill="#e23034" opacity="0.5117140540586724"/><path d="M269.2,42.0L266.2,39.1" stroke="#f6988c" stroke-width="0.9" opacity="0.994754915377953"/><path d="M264.2,37.2L267.1,38.2L265.3,40.0z" fill="#e23034" opacity="0.994754915377953"/><path d="M274.4,42.0L271.4,39.1" stroke="#f6988c" stroke-width="0.9" opacity="0.9976375402325138"/><path d="M269.4,37.2L272.3,38.2L270.5,40.0z" fill="#e23034" opacity="0.9976375402325138"/><path d="M278.9,41.4L276.7,39.2" stroke="#f6988c" stroke-width="0.9" opacity="0.5147647781411447"/><path d="M275.3,37.8L277.4,38.6L276.1,39.9z" fill="#e23034" opacity="0.5147647781411447"/><path d="M258.1,46.5L255.9,44.5" stroke="#f6988c" stroke-width="0.9" opacity="0.4951780667974526"/><path d="M254.5,43.1L256.6,43.8L255.3,45.1z" fill="#e23034" opacity="0.4951780667974526"/><path d="M264.0,47.2L261.0,44.3" stroke="#f6988c" stroke-width="0.9" opacity="0.9782226689147143"/><path d="M259.0,42.4L261.9,43.4L260.1,45.2z" fill="#e23034" opacity="0.9782226689147143"/><path d="M269.2,47.2L266.2,44.3" stroke="#f6988c" stroke-width="0.9" opacity="1"/><path d="M264.2,42.4L267.1,43.4L265.3,45.2z" fill="#e23034" opacity="1"/><path d="M273.8,46.6L271.5,44.4" stroke="#f6988c" stroke-width="0.9" opacity="0.5320353297093008"/><path d="M270.0,43.0L272.2,43.8L270.9,45.1z" fill="#e23034" opacity="0.5320353297093008"/><path d="M247.0,52.7L245.7,49.5" stroke="#f6988c" stroke-width="0.9" opacity="0.6884416948224911"/><path d="M244.8,47.3L246.6,49.1L244.7,49.9z" fill="#e23034" opacity="0.6884416948224911"/><path d="M251.9,53.2L250.9,49.4" stroke="#f6988c" stroke-width="0.9" opacity="0.8833079853066566"/><path d="M250.3,46.8L252.1,49.1L249.8,49.7z" fill="#e23034" opacity="0.8833079853066566"/><path d="M257.2,53.5L256.1,49.3" stroke="#f6988c" stroke-width="0.9" opacity="1"/><path d="M255.4,46.5L257.4,49.0L254.9,49.6z" fill="#e23034" opacity="1"/><path d="M264.1,52.5L261.0,49.5" stroke="#f6988c" stroke-width="0.9" opacity="1"/><path d="M258.9,47.5L261.9,48.6L260.1,50.4z" fill="#e23034" opacity="1"/><path d="M268.6,51.8L266.3,49.6" stroke="#f6988c" stroke-width="0.9" opacity="0.5499042288542115"/><path d="M264.8,48.2L267.0,49.0L265.7,50.3z" fill="#e23034" opacity="0.5499042288542115"/><path d="M243.4,56.2L240.2,55.0" stroke="#f6988c" stroke-width="0.9" opacity="0.6656232883789295"/><path d="M238.0,54.2L240.5,54.0L239.8,56.0z" fill="#e23034" opacity="0.6656232883789295"/><path d="M248.6,57.7L245.4,54.7" stroke="#f6988c" stroke-width="0.9" opacity="1"/><path d="M243.2,52.7L246.3,53.7L244.5,55.7z" fill="#e23034" opacity="1"/><path d="M252.0,58.5L250.9,54.5" stroke="#f6988c" stroke-width="0.9" opacity="0.9594504730621042"/><path d="M250.2,51.9L252.1,54.2L249.7,54.8z" fill="#e23034" opacity="0.9594504730621042"/><path d="M257.1,58.2L256.1,54.6" stroke="#f6988c" stroke-width="0.9" opacity="0.787078147230148"/><path d="M255.5,52.2L257.2,54.3L255.1,54.9z" fill="#e23034" opacity="0.787078147230148"/><path d="M263.4,57.0L261.1,54.8" stroke="#f6988c" stroke-width="0.9" opacity="0.568344562009675"/><path d="M259.6,53.4L261.8,54.1L260.5,55.5z" fill="#e23034" opacity="0.568344562009675"/><path d="M243.6,59.8L240.1,60.5" stroke="#f6988c" stroke-width="0.9" opacity="0.7199838756206141"/><path d="M237.8,61.0L239.9,59.5L240.3,61.6z" fill="#e23034" opacity="0.7199838756206141"/><path d="M249.1,58.7L245.3,60.7" stroke="#f6988c" stroke-width="0.9" opacity="1"/><path d="M242.7,62.1L244.6,59.6L245.9,61.9z" fill="#e23034" opacity="1"/><path d="M252.3,57.7L250.9,60.9" stroke="#f6988c" stroke-width="0.9" opacity="0.7279817968757276"/><path d="M249.9,63.1L249.9,60.5L251.8,61.4z" fill="#e23034" opacity="0.7279817968757276"/><path d="M256.7,58.0L256.2,60.9" stroke="#f6988c" stroke-width="0.9" opacity="0.46536378069026163"/><path d="M255.9,62.8L255.3,60.7L257.1,61.0z" fill="#e23034" opacity="0.46536378069026163"/><path d="M261.4,57.9L261.5,60.9" stroke="#f6988c" stroke-width="0.9" opacity="0.4770245590733301"/><path d="M261.6,62.9L260.6,60.9L262.4,60.9z" fill="#e23034" opacity="0.4770245590733301"/><path d="M266.6,57.9L266.7,60.9" stroke="#f6988c" stroke-width="0.9" opacity="0.48906973239612705"/><path d="M266.8,62.9L265.8,60.9L267.6,60.9z" fill="#e23034" opacity="0.48906973239612705"/><path d="M271.8,57.9L271.9,60.9" stroke="#f6988c" stroke-width="0.9" opacity="0.5014941748257435"/><path d="M272.0,62.9L271.0,60.9L272.8,60.9z" fill="#e23034" opacity="0.5014941748257435"/><path d="M277.0,57.8L277.1,60.9" stroke="#f6988c" stroke-width="0.9" opacity="0.5142912867629623"/><path d="M277.2,63.0L276.2,60.9L278.0,60.9z" fill="#e23034" opacity="0.5142912867629623"/><path d="M282.2,57.8L282.3,60.9" stroke="#f6988c" stroke-width="0.9" opacity="0.5274529462151247"/><path d="M282.4,63.0L281.4,60.9L283.2,60.9z" fill="#e23034" opacity="0.5274529462151247"/><path d="M287.4,57.8L287.5,60.9" stroke="#f6988c" stroke-width="0.9" opacity="0.5409694657215911"/><path d="M287.6,63.0L286.6,60.9L288.4,60.9z" fill="#e23034" opacity="0.5409694657215911"/><path d="M292.6,57.8L292.7,60.9" stroke="#f6988c" stroke-width="0.9" opacity="0.5548295553874649"/><path d="M292.8,63.0L291.8,60.9L293.7,60.9z" fill="#e23034" opacity="0.5548295553874649"/><path d="M242.6,64.1L240.3,65.9" stroke="#f6988c" stroke-width="0.9" opacity="0.44521687861482173"/><path d="M238.8,67.1L239.8,65.2L240.9,66.6z" fill="#e23034" opacity="0.44521687861482173"/><path d="M247.4,62.7L245.6,66.2" stroke="#f6988c" stroke-width="0.9" opacity="0.8646771409890854"/><path d="M244.4,68.5L244.6,65.6L246.6,66.7z" fill="#e23034" opacity="0.8646771409890854"/><path d="M252.6,62.3L250.8,66.3" stroke="#f6988c" stroke-width="0.9" opacity="1"/><path d="M249.6,68.9L249.6,65.7L252.0,66.8z" fill="#e23034" opacity="1"/><path d="M256.3,61.9L256.3,66.3" stroke="#f6988c" stroke-width="0.9" opacity="1"/><path d="M256.3,69.3L255.0,66.3L257.6,66.3z" fill="#e23034" opacity="1"/><path d="M261.4,61.9L261.5,66.3" stroke="#f6988c" stroke-width="0.9" opacity="1"/><path d="M261.6,69.3L260.2,66.4L262.8,66.3z" fill="#e23034" opacity="1"/><path d="M266.6,61.9L266.7,66.3" stroke="#f6988c" stroke-width="0.9" opacity="1"/><path d="M266.8,69.3L265.4,66.4L268.0,66.3z" fill="#e23034" opacity="1"/><path d="M271.8,61.9L271.9,66.3" stroke="#f6988c" stroke-width="0.9" opacity="1"/><path d="M272.0,69.3L270.6,66.4L273.2,66.3z" fill="#e23034" opacity="1"/><path d="M277.0,61.9L277.1,66.3" stroke="#f6988c" stroke-width="0.9" opacity="1"/><path d="M277.2,69.3L275.8,66.4L278.4,66.3z" fill="#e23034" opacity="1"/><path d="M282.2,61.9L282.3,66.3" stroke="#f6988c" stroke-width="0.9" opacity="1"/><path d="M282.4,69.3L281.0,66.4L283.6,66.3z" fill="#e23034" opacity="1"/><path d="M287.4,61.9L287.5,66.3" stroke="#f6988c" stroke-width="0.9" opacity="1"/><path d="M287.6,69.3L286.2,66.4L288.8,66.3z" fill="#e23034" opacity="1"/><path d="M292.6,61.9L292.7,66.3" stroke="#f6988c" stroke-width="0.9" opacity="1"/><path d="M292.8,69.3L291.4,66.4L294.0,66.3z" fill="#e23034" opacity="1"/><path d="M252.2,68.5L250.9,71.3" stroke="#f6988c" stroke-width="0.9" opacity="0.5279879555245603"/><path d="M250.0,73.1L250.0,70.9L251.7,71.7z" fill="#e23034" opacity="0.5279879555245603"/><path d="M256.3,67.9L256.3,71.4" stroke="#f6988c" stroke-width="0.9" opacity="0.6783880817381093"/><path d="M256.3,73.7L255.3,71.4L257.3,71.4z" fill="#e23034" opacity="0.6783880817381093"/><path d="M261.4,68.0L261.5,71.4" stroke="#f6988c" stroke-width="0.9" opacity="0.6623600847163006"/><path d="M261.6,73.6L260.5,71.4L262.5,71.3z" fill="#e23034" opacity="0.6623600847163006"/><path d="M266.6,68.0L266.7,71.4" stroke="#f6988c" stroke-width="0.9" opacity="0.6465221395775848"/><path d="M266.8,73.6L265.7,71.4L267.7,71.3z" fill="#e23034" opacity="0.6465221395775848"/><path d="M271.8,68.0L271.9,71.4" stroke="#f6988c" stroke-width="0.9" opacity="0.6308990082896327"/><path d="M272.0,73.6L270.9,71.4L272.9,71.3z" fill="#e23034" opacity="0.6308990082896327"/><path d="M277.0,68.0L277.1,71.4" stroke="#f6988c" stroke-width="0.9" opacity="0.615513837732398"/><path d="M277.2,73.6L276.1,71.4L278.1,71.3z" fill="#e23034" opacity="0.615513837732398"/><path d="M282.2,68.1L282.3,71.3" stroke="#f6988c" stroke-width="0.9" opacity="0.600388129680685"/><path d="M282.4,73.5L281.3,71.4L283.3,71.3z" fill="#e23034" opacity="0.600388129680685"/><path d="M287.4,68.1L287.5,71.3" stroke="#f6988c" stroke-width="0.9" opacity="0.5855417202984808"/><path d="M287.6,73.5L286.5,71.4L288.5,71.3z" fill="#e23034" opacity="0.5855417202984808"/><path d="M292.6,68.1L292.7,71.3" stroke="#f6988c" stroke-width="0.9" opacity="0.5709927688853651"/><path d="M292.8,73.5L291.8,71.4L293.7,71.3z" fill="#e23034" opacity="0.5709927688853651"/></g>
</g>
<g clip-path="url(#cp4)">
<polygon points="333,20 362,20 362,86 303.5,86 299,79.5 298.2,57" fill="#adadad" filter="url(#b08)"/>
<polygon points="321,57 330,52 362,38 362,65 330,62" fill="#ffffff" opacity="0.95" filter="url(#b3)" stroke="#fff" stroke-width="15" stroke-linejoin="round"/>
<polygon points="321,57 330,52 362,38 362,65 330,62" fill="#6a6af4" opacity="0.95" filter="url(#b2)" />
<polygon points="342,52 362,43 362,62 344,59" fill="#4444ee" opacity="0.7" filter="url(#b2)" />
<g fill="#ececec" opacity="0.9"><circle cx="330.7" cy="24.0" r="0.6"/><circle cx="335.9" cy="24.0" r="0.6"/><circle cx="341.1" cy="24.0" r="0.6"/><circle cx="346.3" cy="24.0" r="0.6"/><circle cx="351.5" cy="24.0" r="0.6"/><circle cx="356.7" cy="24.0" r="0.6"/><circle cx="325.5" cy="29.2" r="0.6"/><circle cx="330.7" cy="29.2" r="0.6"/><circle cx="335.9" cy="29.2" r="0.6"/><circle cx="341.1" cy="29.2" r="0.6"/><circle cx="346.3" cy="29.2" r="0.6"/><circle cx="351.5" cy="29.2" r="0.6"/><circle cx="356.7" cy="29.2" r="0.6"/><circle cx="320.3" cy="34.4" r="0.6"/><circle cx="325.5" cy="34.4" r="0.6"/><circle cx="330.7" cy="34.4" r="0.6"/><circle cx="335.9" cy="34.4" r="0.6"/><circle cx="341.1" cy="34.4" r="0.6"/><circle cx="346.3" cy="34.4" r="0.6"/><circle cx="351.5" cy="34.4" r="0.6"/><circle cx="356.7" cy="34.4" r="0.6"/><circle cx="315.1" cy="39.6" r="0.6"/><circle cx="320.3" cy="39.6" r="0.6"/><circle cx="325.5" cy="39.6" r="0.6"/><circle cx="330.7" cy="39.6" r="0.6"/><circle cx="335.9" cy="39.6" r="0.6"/><circle cx="341.1" cy="39.6" r="0.6"/><circle cx="346.3" cy="39.6" r="0.6"/><circle cx="351.5" cy="39.6" r="0.6"/><circle cx="356.7" cy="39.6" r="0.6"/><circle cx="309.9" cy="44.8" r="0.6"/><circle cx="315.1" cy="44.8" r="0.6"/><circle cx="320.3" cy="44.8" r="0.6"/><circle cx="325.5" cy="44.8" r="0.6"/><circle cx="330.7" cy="44.8" r="0.6"/><circle cx="335.9" cy="44.8" r="0.6"/><circle cx="341.1" cy="44.8" r="0.6"/><circle cx="346.3" cy="44.8" r="0.6"/><circle cx="351.5" cy="44.8" r="0.6"/><circle cx="356.7" cy="44.8" r="0.6"/><circle cx="309.9" cy="50.0" r="0.6"/><circle cx="315.1" cy="50.0" r="0.6"/><circle cx="320.3" cy="50.0" r="0.6"/><circle cx="325.5" cy="50.0" r="0.6"/><circle cx="330.7" cy="50.0" r="0.6"/><circle cx="335.9" cy="50.0" r="0.6"/><circle cx="341.1" cy="50.0" r="0.6"/><circle cx="346.3" cy="50.0" r="0.6"/><circle cx="351.5" cy="50.0" r="0.6"/><circle cx="356.7" cy="50.0" r="0.6"/><circle cx="304.7" cy="55.2" r="0.6"/><circle cx="309.9" cy="55.2" r="0.6"/><circle cx="315.1" cy="55.2" r="0.6"/><circle cx="320.3" cy="55.2" r="0.6"/><circle cx="325.5" cy="55.2" r="0.6"/><circle cx="330.7" cy="55.2" r="0.6"/><circle cx="335.9" cy="55.2" r="0.6"/><circle cx="341.1" cy="55.2" r="0.6"/><circle cx="346.3" cy="55.2" r="0.6"/><circle cx="351.5" cy="55.2" r="0.6"/><circle cx="356.7" cy="55.2" r="0.6"/><circle cx="299.5" cy="60.4" r="0.6"/><circle cx="304.7" cy="60.4" r="0.6"/><circle cx="309.9" cy="60.4" r="0.6"/><circle cx="315.1" cy="60.4" r="0.6"/><circle cx="320.3" cy="60.4" r="0.6"/><circle cx="325.5" cy="60.4" r="0.6"/><circle cx="330.7" cy="60.4" r="0.6"/><circle cx="335.9" cy="60.4" r="0.6"/><circle cx="341.1" cy="60.4" r="0.6"/><circle cx="346.3" cy="60.4" r="0.6"/><circle cx="351.5" cy="60.4" r="0.6"/><circle cx="356.7" cy="60.4" r="0.6"/><circle cx="299.5" cy="65.6" r="0.6"/><circle cx="304.7" cy="65.6" r="0.6"/><circle cx="309.9" cy="65.6" r="0.6"/><circle cx="315.1" cy="65.6" r="0.6"/><circle cx="320.3" cy="65.6" r="0.6"/><circle cx="325.5" cy="65.6" r="0.6"/><circle cx="330.7" cy="65.6" r="0.6"/><circle cx="335.9" cy="65.6" r="0.6"/><circle cx="341.1" cy="65.6" r="0.6"/><circle cx="346.3" cy="65.6" r="0.6"/><circle cx="351.5" cy="65.6" r="0.6"/><circle cx="356.7" cy="65.6" r="0.6"/><circle cx="299.5" cy="70.8" r="0.6"/><circle cx="304.7" cy="70.8" r="0.6"/><circle cx="309.9" cy="70.8" r="0.6"/><circle cx="315.1" cy="70.8" r="0.6"/><circle cx="320.3" cy="70.8" r="0.6"/><circle cx="325.5" cy="70.8" r="0.6"/><circle cx="330.7" cy="70.8" r="0.6"/><circle cx="335.9" cy="70.8" r="0.6"/><circle cx="341.1" cy="70.8" r="0.6"/><circle cx="346.3" cy="70.8" r="0.6"/><circle cx="351.5" cy="70.8" r="0.6"/><circle cx="356.7" cy="70.8" r="0.6"/><circle cx="299.5" cy="76.0" r="0.6"/><circle cx="304.7" cy="76.0" r="0.6"/><circle cx="309.9" cy="76.0" r="0.6"/><circle cx="315.1" cy="76.0" r="0.6"/><circle cx="320.3" cy="76.0" r="0.6"/><circle cx="325.5" cy="76.0" r="0.6"/><circle cx="330.7" cy="76.0" r="0.6"/><circle cx="335.9" cy="76.0" r="0.6"/><circle cx="341.1" cy="76.0" r="0.6"/><circle cx="346.3" cy="76.0" r="0.6"/><circle cx="351.5" cy="76.0" r="0.6"/><circle cx="356.7" cy="76.0" r="0.6"/><circle cx="304.7" cy="81.2" r="0.6"/><circle cx="309.9" cy="81.2" r="0.6"/><circle cx="315.1" cy="81.2" r="0.6"/><circle cx="320.3" cy="81.2" r="0.6"/><circle cx="325.5" cy="81.2" r="0.6"/><circle cx="330.7" cy="81.2" r="0.6"/><circle cx="335.9" cy="81.2" r="0.6"/><circle cx="341.1" cy="81.2" r="0.6"/><circle cx="346.3" cy="81.2" r="0.6"/><circle cx="351.5" cy="81.2" r="0.6"/><circle cx="356.7" cy="81.2" r="0.6"/></g>
<g filter="url(#b05)"><path d="M358.0,31.5L356.4,28.7" stroke="#f6988c" stroke-width="0.9" opacity="0.5643203124742654"/><path d="M355.4,26.9L357.3,28.3L355.6,29.2z" fill="#e23034" opacity="0.5643203124742654"/><path d="M347.7,36.8L346.0,33.9" stroke="#f6988c" stroke-width="0.9" opacity="0.6398428077981639"/><path d="M344.9,32.0L346.9,33.4L345.1,34.4z" fill="#e23034" opacity="0.6398428077981639"/><path d="M353.1,37.3L351.2,33.8" stroke="#f6988c" stroke-width="0.9" opacity="0.9237403736406019"/><path d="M349.9,31.5L352.2,33.2L350.1,34.4z" fill="#e23034" opacity="0.9237403736406019"/><path d="M358.5,37.6L356.3,33.8" stroke="#f6988c" stroke-width="0.9" opacity="1"/><path d="M354.9,31.2L357.5,33.1L355.2,34.4z" fill="#e23034" opacity="1"/><path d="M331.9,41.7L330.5,39.2" stroke="#f6988c" stroke-width="0.9" opacity="0.46663971932815784"/><path d="M329.5,37.5L331.2,38.7L329.7,39.6z" fill="#e23034" opacity="0.46663971932815784"/><path d="M337.4,42.2L335.6,39.1" stroke="#f6988c" stroke-width="0.9" opacity="0.7209938913121217"/><path d="M334.4,37.0L336.5,38.6L334.7,39.6z" fill="#e23034" opacity="0.7209938913121217"/><path d="M342.8,42.6L340.8,39.0" stroke="#f6988c" stroke-width="0.9" opacity="0.9925892600989489"/><path d="M339.4,36.6L341.9,38.4L339.7,39.6z" fill="#e23034" opacity="0.9925892600989489"/><path d="M348.1,42.8L345.9,39.0" stroke="#f6988c" stroke-width="0.9" opacity="1"/><path d="M344.5,36.4L347.1,38.3L344.8,39.6z" fill="#e23034" opacity="1"/><path d="M353.2,42.6L351.2,39.0" stroke="#f6988c" stroke-width="0.9" opacity="0.9540184494019937"/><path d="M349.8,36.6L352.2,38.4L350.1,39.6z" fill="#e23034" opacity="0.9540184494019937"/><path d="M358.1,42.1L356.4,39.1" stroke="#f6988c" stroke-width="0.9" opacity="0.6733368047196695"/><path d="M355.3,37.1L357.3,38.6L355.5,39.6z" fill="#e23034" opacity="0.6733368047196695"/><path d="M321.7,46.8L320.0,44.4" stroke="#f6988c" stroke-width="0.9" opacity="0.4740350773348557"/><path d="M318.9,42.8L320.7,43.9L319.3,44.9z" fill="#e23034" opacity="0.4740350773348557"/><path d="M327.3,47.3L325.1,44.3" stroke="#f6988c" stroke-width="0.9" opacity="0.7932339660891794"/><path d="M323.7,42.3L326.1,43.7L324.2,44.9z" fill="#e23034" opacity="0.7932339660891794"/><path d="M332.5,47.9L330.3,44.2" stroke="#f6988c" stroke-width="0.9" opacity="1"/><path d="M328.9,41.7L331.5,43.5L329.2,44.8z" fill="#e23034" opacity="1"/><path d="M337.7,48.0L335.5,44.2" stroke="#f6988c" stroke-width="0.9" opacity="1"/><path d="M334.1,41.6L336.7,43.5L334.4,44.8z" fill="#e23034" opacity="1"/><path d="M342.7,47.6L340.8,44.2" stroke="#f6988c" stroke-width="0.9" opacity="0.8790852256880488"/><path d="M339.5,42.0L341.8,43.7L339.8,44.8z" fill="#e23034" opacity="0.8790852256880488"/><path d="M347.6,47.2L346.0,44.3" stroke="#f6988c" stroke-width="0.9" opacity="0.5950975018969792"/><path d="M345.0,42.4L346.9,43.8L345.2,44.8z" fill="#e23034" opacity="0.5950975018969792"/><path d="M317.2,52.0L314.7,49.6" stroke="#f6988c" stroke-width="0.9" opacity="0.6989185385788501"/><path d="M313.0,48.0L315.4,48.8L314.0,50.3z" fill="#e23034" opacity="0.6989185385788501"/><path d="M322.3,52.9L319.9,49.4" stroke="#f6988c" stroke-width="0.9" opacity="1"/><path d="M318.3,47.1L320.9,48.7L318.8,50.1z" fill="#e23034" opacity="1"/><path d="M327.6,53.0L325.1,49.4" stroke="#f6988c" stroke-width="0.9" opacity="1"/><path d="M323.4,47.0L326.2,48.7L324.0,50.1z" fill="#e23034" opacity="1"/><path d="M332.2,52.7L330.4,49.5" stroke="#f6988c" stroke-width="0.9" opacity="0.7975749856342053"/><path d="M329.2,47.3L331.4,48.9L329.4,50.0z" fill="#e23034" opacity="0.7975749856342053"/><path d="M337.2,52.2L335.6,49.6" stroke="#f6988c" stroke-width="0.9" opacity="0.5240351501892506"/><path d="M334.6,47.8L336.5,49.1L334.8,50.0z" fill="#e23034" opacity="0.5240351501892506"/><path d="M312.3,55.3L309.4,55.2" stroke="#f6988c" stroke-width="0.9" opacity="0.45092430519878923"/><path d="M307.5,55.1L309.5,54.3L309.4,56.0z" fill="#e23034" opacity="0.45092430519878923"/><path d="M318.6,55.9L314.4,55.1" stroke="#f6988c" stroke-width="0.9" opacity="1"/><path d="M311.6,54.5L314.6,53.8L314.1,56.3z" fill="#e23034" opacity="1"/><path d="M322.2,57.8L319.9,54.7" stroke="#f6988c" stroke-width="0.9" opacity="0.8475932590248407"/><path d="M318.4,52.6L320.9,54.0L319.0,55.3z" fill="#e23034" opacity="0.8475932590248407"/><path d="M327.0,57.3L325.2,54.8" stroke="#f6988c" stroke-width="0.9" opacity="0.515213354982387"/><path d="M324.0,53.1L326.0,54.3L324.5,55.3z" fill="#e23034" opacity="0.515213354982387"/><path d="M318.0,58.4L314.5,60.8" stroke="#f6988c" stroke-width="0.9" opacity="1"/><path d="M312.2,62.4L313.8,59.8L315.3,61.8z" fill="#e23034" opacity="1"/><path d="M321.7,57.2L320.0,61.0" stroke="#f6988c" stroke-width="0.9" opacity="1"/><path d="M318.9,63.6L318.9,60.5L321.2,61.6z" fill="#e23034" opacity="1"/><path d="M326.6,57.7L325.3,60.9" stroke="#f6988c" stroke-width="0.9" opacity="0.690867437435337"/><path d="M324.4,63.1L324.3,60.5L326.2,61.3z" fill="#e23034" opacity="0.690867437435337"/><path d="M316.3,63.3L314.9,66.1" stroke="#f6988c" stroke-width="0.9" opacity="0.5357465752896798"/><path d="M313.9,67.9L314.0,65.6L315.7,66.5z" fill="#e23034" opacity="0.5357465752896798"/><path d="M321.6,62.6L320.0,66.2" stroke="#f6988c" stroke-width="0.9" opacity="0.8784284236620747"/><path d="M319.0,68.6L319.0,65.7L321.1,66.7z" fill="#e23034" opacity="0.8784284236620747"/><path d="M327.0,62.2L325.2,66.3" stroke="#f6988c" stroke-width="0.9" opacity="1"/><path d="M324.0,69.0L324.0,65.8L326.4,66.8z" fill="#e23034" opacity="1"/><path d="M330.7,62.0L330.7,66.3" stroke="#f6988c" stroke-width="0.9" opacity="1"/><path d="M330.7,69.2L329.4,66.3L332.0,66.3z" fill="#e23034" opacity="1"/><path d="M335.9,62.1L335.9,66.3" stroke="#f6988c" stroke-width="0.9" opacity="0.9867378247373018"/><path d="M335.9,69.1L334.7,66.3L337.2,66.3z" fill="#e23034" opacity="0.9867378247373018"/><path d="M341.1,62.2L341.1,66.3" stroke="#f6988c" stroke-width="0.9" opacity="0.9305656862033169"/><path d="M341.1,69.0L339.9,66.3L342.3,66.3z" fill="#e23034" opacity="0.9305656862033169"/><path d="M346.3,62.4L346.3,66.2" stroke="#f6988c" stroke-width="0.9" opacity="0.8678165791965188"/><path d="M346.3,68.8L345.1,66.3L347.5,66.2z" fill="#e23034" opacity="0.8678165791965188"/><path d="M351.5,62.5L351.5,66.2" stroke="#f6988c" stroke-width="0.9" opacity="0.8011648305174457"/><path d="M351.5,68.7L350.4,66.2L352.6,66.2z" fill="#e23034" opacity="0.8011648305174457"/><path d="M356.7,62.6L356.7,66.2" stroke="#f6988c" stroke-width="0.9" opacity="0.7332099474103005"/><path d="M356.7,68.6L355.6,66.2L357.8,66.2z" fill="#e23034" opacity="0.7332099474103005"/><path d="M326.5,68.3L325.3,71.3" stroke="#f6988c" stroke-width="0.9" opacity="0.6018289311328726"/><path d="M324.5,73.3L324.4,71.0L326.2,71.7z" fill="#e23034" opacity="0.6018289311328726"/><path d="M330.7,67.8L330.7,71.4" stroke="#f6988c" stroke-width="0.9" opacity="0.7628467677317071"/><path d="M330.7,73.8L329.6,71.4L331.8,71.4z" fill="#e23034" opacity="0.7628467677317071"/><path d="M335.9,67.6L335.9,71.4" stroke="#f6988c" stroke-width="0.9" opacity="0.830541178254615"/><path d="M335.9,74.0L334.8,71.4L337.0,71.4z" fill="#e23034" opacity="0.830541178254615"/><path d="M341.1,67.5L341.1,71.5" stroke="#f6988c" stroke-width="0.9" opacity="0.8958190724520755"/><path d="M341.1,74.1L339.9,71.5L342.3,71.5z" fill="#e23034" opacity="0.8958190724520755"/><path d="M346.3,67.4L346.3,71.5" stroke="#f6988c" stroke-width="0.9" opacity="0.9560267114144921"/><path d="M346.3,74.2L345.1,71.5L347.5,71.5z" fill="#e23034" opacity="0.9560267114144921"/><path d="M351.5,67.3L351.5,71.5" stroke="#f6988c" stroke-width="0.9" opacity="1"/><path d="M351.5,74.3L350.2,71.5L352.8,71.5z" fill="#e23034" opacity="1"/><path d="M356.7,67.2L356.7,71.5" stroke="#f6988c" stroke-width="0.9" opacity="1"/><path d="M356.7,74.4L355.4,71.5L358.0,71.5z" fill="#e23034" opacity="1"/><path d="M356.7,73.6L356.7,76.5" stroke="#f6988c" stroke-width="0.9" opacity="0.43277662047935406"/><path d="M356.7,78.4L355.8,76.5L357.6,76.5z" fill="#e23034" opacity="0.43277662047935406"/></g>
</g>
<g clip-path="url(#cp5)">
<polygon points="397,20 426,20 426,86 367.5,86 363,80 362.2,64.5" fill="#a6a6a6" filter="url(#b08)"/>
<ellipse cx="414" cy="52" rx="24" ry="22" transform="rotate(0 414 52)" fill="#ffffff" opacity="0.95" filter="url(#b3)" />
<ellipse cx="414" cy="52" rx="17" ry="15.5" transform="rotate(0 414 52)" fill="#3030f0" opacity="1" filter="url(#b2)" />
<ellipse cx="416" cy="51" rx="11" ry="10" transform="rotate(0 416 51)" fill="#1414e8" opacity="0.85" filter="url(#b2)" />
<g fill="#ececec" opacity="0.9"><circle cx="394.7" cy="24.0" r="0.6"/><circle cx="399.9" cy="24.0" r="0.6"/><circle cx="405.1" cy="24.0" r="0.6"/><circle cx="410.3" cy="24.0" r="0.6"/><circle cx="415.5" cy="24.0" r="0.6"/><circle cx="420.7" cy="24.0" r="0.6"/><circle cx="394.7" cy="29.2" r="0.6"/><circle cx="399.9" cy="29.2" r="0.6"/><circle cx="405.1" cy="29.2" r="0.6"/><circle cx="410.3" cy="29.2" r="0.6"/><circle cx="415.5" cy="29.2" r="0.6"/><circle cx="420.7" cy="29.2" r="0.6"/><circle cx="389.5" cy="34.4" r="0.6"/><circle cx="394.7" cy="34.4" r="0.6"/><circle cx="399.9" cy="34.4" r="0.6"/><circle cx="405.1" cy="34.4" r="0.6"/><circle cx="410.3" cy="34.4" r="0.6"/><circle cx="415.5" cy="34.4" r="0.6"/><circle cx="420.7" cy="34.4" r="0.6"/><circle cx="384.3" cy="39.6" r="0.6"/><circle cx="389.5" cy="39.6" r="0.6"/><circle cx="394.7" cy="39.6" r="0.6"/><circle cx="399.9" cy="39.6" r="0.6"/><circle cx="405.1" cy="39.6" r="0.6"/><circle cx="410.3" cy="39.6" r="0.6"/><circle cx="415.5" cy="39.6" r="0.6"/><circle cx="420.7" cy="39.6" r="0.6"/><circle cx="379.1" cy="44.8" r="0.6"/><circle cx="384.3" cy="44.8" r="0.6"/><circle cx="389.5" cy="44.8" r="0.6"/><circle cx="394.7" cy="44.8" r="0.6"/><circle cx="399.9" cy="44.8" r="0.6"/><circle cx="405.1" cy="44.8" r="0.6"/><circle cx="410.3" cy="44.8" r="0.6"/><circle cx="415.5" cy="44.8" r="0.6"/><circle cx="420.7" cy="44.8" r="0.6"/><circle cx="373.9" cy="50.0" r="0.6"/><circle cx="379.1" cy="50.0" r="0.6"/><circle cx="384.3" cy="50.0" r="0.6"/><circle cx="389.5" cy="50.0" r="0.6"/><circle cx="394.7" cy="50.0" r="0.6"/><circle cx="399.9" cy="50.0" r="0.6"/><circle cx="405.1" cy="50.0" r="0.6"/><circle cx="410.3" cy="50.0" r="0.6"/><circle cx="415.5" cy="50.0" r="0.6"/><circle cx="420.7" cy="50.0" r="0.6"/><circle cx="373.9" cy="55.2" r="0.6"/><circle cx="379.1" cy="55.2" r="0.6"/><circle cx="384.3" cy="55.2" r="0.6"/><circle cx="389.5" cy="55.2" r="0.6"/><circle cx="394.7" cy="55.2" r="0.6"/><circle cx="399.9" cy="55.2" r="0.6"/><circle cx="405.1" cy="55.2" r="0.6"/><circle cx="410.3" cy="55.2" r="0.6"/><circle cx="415.5" cy="55.2" r="0.6"/><circle cx="420.7" cy="55.2" r="0.6"/><circle cx="368.7" cy="60.4" r="0.6"/><circle cx="373.9" cy="60.4" r="0.6"/><circle cx="379.1" cy="60.4" r="0.6"/><circle cx="384.3" cy="60.4" r="0.6"/><circle cx="389.5" cy="60.4" r="0.6"/><circle cx="394.7" cy="60.4" r="0.6"/><circle cx="399.9" cy="60.4" r="0.6"/><circle cx="405.1" cy="60.4" r="0.6"/><circle cx="410.3" cy="60.4" r="0.6"/><circle cx="415.5" cy="60.4" r="0.6"/><circle cx="420.7" cy="60.4" r="0.6"/><circle cx="363.5" cy="65.6" r="0.6"/><circle cx="368.7" cy="65.6" r="0.6"/><circle cx="373.9" cy="65.6" r="0.6"/><circle cx="379.1" cy="65.6" r="0.6"/><circle cx="384.3" cy="65.6" r="0.6"/><circle cx="389.5" cy="65.6" r="0.6"/><circle cx="394.7" cy="65.6" r="0.6"/><circle cx="399.9" cy="65.6" r="0.6"/><circle cx="405.1" cy="65.6" r="0.6"/><circle cx="410.3" cy="65.6" r="0.6"/><circle cx="415.5" cy="65.6" r="0.6"/><circle cx="420.7" cy="65.6" r="0.6"/><circle cx="363.5" cy="70.8" r="0.6"/><circle cx="368.7" cy="70.8" r="0.6"/><circle cx="373.9" cy="70.8" r="0.6"/><circle cx="379.1" cy="70.8" r="0.6"/><circle cx="384.3" cy="70.8" r="0.6"/><circle cx="389.5" cy="70.8" r="0.6"/><circle cx="394.7" cy="70.8" r="0.6"/><circle cx="399.9" cy="70.8" r="0.6"/><circle cx="405.1" cy="70.8" r="0.6"/><circle cx="410.3" cy="70.8" r="0.6"/><circle cx="415.5" cy="70.8" r="0.6"/><circle cx="420.7" cy="70.8" r="0.6"/><circle cx="363.5" cy="76.0" r="0.6"/><circle cx="368.7" cy="76.0" r="0.6"/><circle cx="373.9" cy="76.0" r="0.6"/><circle cx="379.1" cy="76.0" r="0.6"/><circle cx="384.3" cy="76.0" r="0.6"/><circle cx="389.5" cy="76.0" r="0.6"/><circle cx="394.7" cy="76.0" r="0.6"/><circle cx="399.9" cy="76.0" r="0.6"/><circle cx="405.1" cy="76.0" r="0.6"/><circle cx="410.3" cy="76.0" r="0.6"/><circle cx="415.5" cy="76.0" r="0.6"/><circle cx="420.7" cy="76.0" r="0.6"/><circle cx="368.7" cy="81.2" r="0.6"/><circle cx="373.9" cy="81.2" r="0.6"/><circle cx="379.1" cy="81.2" r="0.6"/><circle cx="384.3" cy="81.2" r="0.6"/><circle cx="389.5" cy="81.2" r="0.6"/><circle cx="394.7" cy="81.2" r="0.6"/><circle cx="399.9" cy="81.2" r="0.6"/><circle cx="405.1" cy="81.2" r="0.6"/><circle cx="410.3" cy="81.2" r="0.6"/><circle cx="415.5" cy="81.2" r="0.6"/><circle cx="420.7" cy="81.2" r="0.6"/></g>
<g filter="url(#b05)"><path d="M406.0,31.1L404.9,28.8" stroke="#f6988c" stroke-width="1.25" opacity="0.46777803061969203"/><path d="M404.2,27.3L405.6,28.5L404.2,29.1z" fill="#e23034" opacity="0.46777803061969203"/><path d="M410.9,31.6L410.2,28.7" stroke="#f6988c" stroke-width="1.25" opacity="0.6650030262022139"/><path d="M409.7,26.8L411.0,28.5L409.3,28.9z" fill="#e23034" opacity="0.6650030262022139"/><path d="M415.6,31.7L415.5,28.7" stroke="#f6988c" stroke-width="1.25" opacity="0.7059851374706125"/><path d="M415.4,26.7L416.4,28.7L414.6,28.7z" fill="#e23034" opacity="0.7059851374706125"/><path d="M420.4,31.5L420.8,28.7" stroke="#f6988c" stroke-width="1.25" opacity="0.5619702814629282"/><path d="M421.0,26.9L421.6,28.9L419.9,28.6z" fill="#e23034" opacity="0.5619702814629282"/><path d="M401.7,36.6L399.5,34.0" stroke="#f6988c" stroke-width="1.25" opacity="0.912850212943484"/><path d="M398.1,32.2L400.3,33.3L398.7,34.6z" fill="#e23034" opacity="0.912850212943484"/><path d="M406.6,37.2L404.8,33.8" stroke="#f6988c" stroke-width="1.25" opacity="1"/><path d="M403.6,31.6L405.8,33.3L403.8,34.4z" fill="#e23034" opacity="1"/><path d="M411.1,37.1L410.1,33.9" stroke="#f6988c" stroke-width="1.25" opacity="0.8588288867668905"/><path d="M409.5,31.7L411.1,33.6L409.2,34.1z" fill="#e23034" opacity="0.8588288867668905"/><path d="M415.6,37.1L415.5,33.9" stroke="#f6988c" stroke-width="1.25" opacity="0.805698463548915"/><path d="M415.4,31.7L416.5,33.8L414.5,33.9z" fill="#e23034" opacity="0.805698463548915"/><path d="M420.1,37.3L420.8,33.8" stroke="#f6988c" stroke-width="1.25" opacity="0.9854028904334217"/><path d="M421.3,31.5L421.9,34.0L419.8,33.6z" fill="#e23034" opacity="0.9854028904334217"/><path d="M397.2,41.2L394.2,39.3" stroke="#f6988c" stroke-width="1.25" opacity="0.9600198929928793"/><path d="M392.2,38.0L394.8,38.4L393.6,40.2z" fill="#e23034" opacity="0.9600198929928793"/><path d="M402.0,41.4L399.5,39.2" stroke="#f6988c" stroke-width="1.25" opacity="0.8472717688726257"/><path d="M397.8,37.8L400.1,38.5L398.8,40.0z" fill="#e23034" opacity="0.8472717688726257"/><path d="M391.8,45.4L389.0,44.7" stroke="#f6988c" stroke-width="1.25" opacity="0.5856946050712692"/><path d="M387.2,44.2L389.2,43.9L388.8,45.5z" fill="#e23034" opacity="0.5856946050712692"/><path d="M397.6,45.8L394.1,44.6" stroke="#f6988c" stroke-width="1.25" opacity="1"/><path d="M391.8,43.8L394.5,43.5L393.8,45.7z" fill="#e23034" opacity="1"/><path d="M392.2,50.0L389.0,50.0" stroke="#f6988c" stroke-width="1.25" opacity="0.7894310438598052"/><path d="M386.8,50.0L389.0,49.0L389.0,51.0z" fill="#e23034" opacity="0.7894310438598052"/><path d="M397.4,50.1L394.2,50.0" stroke="#f6988c" stroke-width="1.25" opacity="0.8172059720840021"/><path d="M392.0,49.9L394.2,49.0L394.1,51.0z" fill="#e23034" opacity="0.8172059720840021"/><path d="M392.0,54.5L389.0,55.3" stroke="#f6988c" stroke-width="1.25" opacity="0.7613607888990674"/><path d="M387.0,55.9L388.8,54.4L389.2,56.2z" fill="#e23034" opacity="0.7613607888990674"/><path d="M397.4,54.4L394.2,55.4" stroke="#f6988c" stroke-width="1.25" opacity="0.8520209527352114"/><path d="M392.0,56.0L393.9,54.4L394.5,56.3z" fill="#e23034" opacity="0.8520209527352114"/><path d="M391.5,59.4L389.1,60.6" stroke="#f6988c" stroke-width="1.25" opacity="0.5183692823714403"/><path d="M387.5,61.4L388.7,59.9L389.5,61.3z" fill="#e23034" opacity="0.5183692823714403"/><path d="M397.3,58.7L394.2,60.7" stroke="#f6988c" stroke-width="1.25" opacity="1"/><path d="M392.1,62.1L393.5,59.8L394.8,61.7z" fill="#e23034" opacity="1"/><path d="M396.6,63.6L394.3,66.0" stroke="#f6988c" stroke-width="1.25" opacity="0.8271398235593308"/><path d="M392.8,67.6L393.6,65.3L395.0,66.7z" fill="#e23034" opacity="0.8271398235593308"/><path d="M401.6,63.1L399.6,66.1" stroke="#f6988c" stroke-width="1.25" opacity="0.9982478003522091"/><path d="M398.2,68.1L398.7,65.5L400.4,66.7z" fill="#e23034" opacity="0.9982478003522091"/><path d="M405.9,63.6L404.9,66.0" stroke="#f6988c" stroke-width="1.25" opacity="0.4731754289224612"/><path d="M404.3,67.6L404.2,65.7L405.6,66.3z" fill="#e23034" opacity="0.4731754289224612"/><path d="M401.0,68.5L399.7,71.3" stroke="#f6988c" stroke-width="1.25" opacity="0.719153162068459"/><path d="M398.8,73.1L398.8,70.9L400.5,71.7z" fill="#e23034" opacity="0.719153162068459"/><path d="M406.0,67.7L404.9,71.4" stroke="#f6988c" stroke-width="1.25" opacity="1"/><path d="M404.2,73.9L403.8,71.1L406.0,71.7z" fill="#e23034" opacity="1"/><path d="M410.5,67.7L410.3,71.4" stroke="#f6988c" stroke-width="1.25" opacity="1"/><path d="M410.1,73.9L409.1,71.4L411.4,71.5z" fill="#e23034" opacity="1"/><path d="M415.0,67.8L415.6,71.4" stroke="#f6988c" stroke-width="1.25" opacity="1"/><path d="M416.0,73.8L414.5,71.6L416.7,71.2z" fill="#e23034" opacity="1"/><path d="M419.5,67.8L420.9,71.4" stroke="#f6988c" stroke-width="1.25" opacity="1"/><path d="M421.9,73.8L419.9,71.8L422.0,71.0z" fill="#e23034" opacity="1"/><path d="M410.4,73.9L410.3,76.4" stroke="#f6988c" stroke-width="1.25" opacity="0.4628807820134886"/><path d="M410.2,78.1L409.5,76.4L411.1,76.4z" fill="#e23034" opacity="0.4628807820134886"/><path d="M415.2,73.9L415.6,76.4" stroke="#f6988c" stroke-width="1.25" opacity="0.4914148243246845"/><path d="M415.8,78.1L414.8,76.5L416.3,76.3z" fill="#e23034" opacity="0.4914148243246845"/></g>
</g>
<g clip-path="url(#cp6)">
<polygon points="480.8,20.5 489,20.5 489,85.5 437.8,85.5 426.9,73.8" fill="#a7a7a7" filter="url(#soft)"/>
<g fill="#c8c8c8" opacity="0.8"><circle cx="478.5" cy="23.0" r="0.3"/><circle cx="481.1" cy="23.0" r="0.3"/><circle cx="483.7" cy="23.0" r="0.3"/><circle cx="486.3" cy="23.0" r="0.3"/><circle cx="488.9" cy="23.0" r="0.3"/><circle cx="475.9" cy="25.6" r="0.3"/><circle cx="478.5" cy="25.6" r="0.3"/><circle cx="481.1" cy="25.6" r="0.3"/><circle cx="483.7" cy="25.6" r="0.3"/><circle cx="486.3" cy="25.6" r="0.3"/><circle cx="488.9" cy="25.6" r="0.3"/><circle cx="473.3" cy="28.2" r="0.3"/><circle cx="475.9" cy="28.2" r="0.3"/><circle cx="478.5" cy="28.2" r="0.3"/><circle cx="481.1" cy="28.2" r="0.3"/><circle cx="483.7" cy="28.2" r="0.3"/><circle cx="486.3" cy="28.2" r="0.3"/><circle cx="488.9" cy="28.2" r="0.3"/><circle cx="470.7" cy="30.8" r="0.3"/><circle cx="473.3" cy="30.8" r="0.3"/><circle cx="475.9" cy="30.8" r="0.3"/><circle cx="478.5" cy="30.8" r="0.3"/><circle cx="481.1" cy="30.8" r="0.3"/><circle cx="483.7" cy="30.8" r="0.3"/><circle cx="486.3" cy="30.8" r="0.3"/><circle cx="488.9" cy="30.8" r="0.3"/><circle cx="468.1" cy="33.4" r="0.3"/><circle cx="470.7" cy="33.4" r="0.3"/><circle cx="473.3" cy="33.4" r="0.3"/><circle cx="475.9" cy="33.4" r="0.3"/><circle cx="478.5" cy="33.4" r="0.3"/><circle cx="481.1" cy="33.4" r="0.3"/><circle cx="483.7" cy="33.4" r="0.3"/><circle cx="486.3" cy="33.4" r="0.3"/><circle cx="488.9" cy="33.4" r="0.3"/><circle cx="465.5" cy="36.0" r="0.3"/><circle cx="468.1" cy="36.0" r="0.3"/><circle cx="470.7" cy="36.0" r="0.3"/><circle cx="473.3" cy="36.0" r="0.3"/><circle cx="475.9" cy="36.0" r="0.3"/><circle cx="478.5" cy="36.0" r="0.3"/><circle cx="481.1" cy="36.0" r="0.3"/><circle cx="483.7" cy="36.0" r="0.3"/><circle cx="486.3" cy="36.0" r="0.3"/><circle cx="488.9" cy="36.0" r="0.3"/><circle cx="462.9" cy="38.6" r="0.3"/><circle cx="465.5" cy="38.6" r="0.3"/><circle cx="468.1" cy="38.6" r="0.3"/><circle cx="470.7" cy="38.6" r="0.3"/><circle cx="473.3" cy="38.6" r="0.3"/><circle cx="475.9" cy="38.6" r="0.3"/><circle cx="478.5" cy="38.6" r="0.3"/><circle cx="481.1" cy="38.6" r="0.3"/><circle cx="483.7" cy="38.6" r="0.3"/><circle cx="486.3" cy="38.6" r="0.3"/><circle cx="488.9" cy="38.6" r="0.3"/><circle cx="460.3" cy="41.2" r="0.3"/><circle cx="462.9" cy="41.2" r="0.3"/><circle cx="465.5" cy="41.2" r="0.3"/><circle cx="468.1" cy="41.2" r="0.3"/><circle cx="470.7" cy="41.2" r="0.3"/><circle cx="473.3" cy="41.2" r="0.3"/><circle cx="475.9" cy="41.2" r="0.3"/><circle cx="478.5" cy="41.2" r="0.3"/><circle cx="481.1" cy="41.2" r="0.3"/><circle cx="483.7" cy="41.2" r="0.3"/><circle cx="486.3" cy="41.2" r="0.3"/><circle cx="488.9" cy="41.2" r="0.3"/><circle cx="457.7" cy="43.8" r="0.3"/><circle cx="460.3" cy="43.8" r="0.3"/><circle cx="462.9" cy="43.8" r="0.3"/><circle cx="465.5" cy="43.8" r="0.3"/><circle cx="468.1" cy="43.8" r="0.3"/><circle cx="470.7" cy="43.8" r="0.3"/><circle cx="473.3" cy="43.8" r="0.3"/><circle cx="475.9" cy="43.8" r="0.3"/><circle cx="478.5" cy="43.8" r="0.3"/><circle cx="481.1" cy="43.8" r="0.3"/><circle cx="483.7" cy="43.8" r="0.3"/><circle cx="486.3" cy="43.8" r="0.3"/><circle cx="488.9" cy="43.8" r="0.3"/><circle cx="455.1" cy="46.4" r="0.3"/><circle cx="457.7" cy="46.4" r="0.3"/><circle cx="460.3" cy="46.4" r="0.3"/><circle cx="462.9" cy="46.4" r="0.3"/><circle cx="465.5" cy="46.4" r="0.3"/><circle cx="468.1" cy="46.4" r="0.3"/><circle cx="470.7" cy="46.4" r="0.3"/><circle cx="473.3" cy="46.4" r="0.3"/><circle cx="475.9" cy="46.4" r="0.3"/><circle cx="478.5" cy="46.4" r="0.3"/><circle cx="481.1" cy="46.4" r="0.3"/><circle cx="483.7" cy="46.4" r="0.3"/><circle cx="486.3" cy="46.4" r="0.3"/><circle cx="488.9" cy="46.4" r="0.3"/><circle cx="452.5" cy="49.0" r="0.3"/><circle cx="455.1" cy="49.0" r="0.3"/><circle cx="457.7" cy="49.0" r="0.3"/><circle cx="460.3" cy="49.0" r="0.3"/><circle cx="462.9" cy="49.0" r="0.3"/><circle cx="465.5" cy="49.0" r="0.3"/><circle cx="468.1" cy="49.0" r="0.3"/><circle cx="470.7" cy="49.0" r="0.3"/><circle cx="473.3" cy="49.0" r="0.3"/><circle cx="475.9" cy="49.0" r="0.3"/><circle cx="478.5" cy="49.0" r="0.3"/><circle cx="481.1" cy="49.0" r="0.3"/><circle cx="483.7" cy="49.0" r="0.3"/><circle cx="486.3" cy="49.0" r="0.3"/><circle cx="488.9" cy="49.0" r="0.3"/><circle cx="449.9" cy="51.6" r="0.3"/><circle cx="452.5" cy="51.6" r="0.3"/><circle cx="455.1" cy="51.6" r="0.3"/><circle cx="457.7" cy="51.6" r="0.3"/><circle cx="460.3" cy="51.6" r="0.3"/><circle cx="462.9" cy="51.6" r="0.3"/><circle cx="465.5" cy="51.6" r="0.3"/><circle cx="468.1" cy="51.6" r="0.3"/><circle cx="470.7" cy="51.6" r="0.3"/><circle cx="473.3" cy="51.6" r="0.3"/><circle cx="475.9" cy="51.6" r="0.3"/><circle cx="478.5" cy="51.6" r="0.3"/><circle cx="481.1" cy="51.6" r="0.3"/><circle cx="483.7" cy="51.6" r="0.3"/><circle cx="486.3" cy="51.6" r="0.3"/><circle cx="488.9" cy="51.6" r="0.3"/><circle cx="447.3" cy="54.2" r="0.3"/><circle cx="449.9" cy="54.2" r="0.3"/><circle cx="452.5" cy="54.2" r="0.3"/><circle cx="455.1" cy="54.2" r="0.3"/><circle cx="457.7" cy="54.2" r="0.3"/><circle cx="460.3" cy="54.2" r="0.3"/><circle cx="462.9" cy="54.2" r="0.3"/><circle cx="465.5" cy="54.2" r="0.3"/><circle cx="468.1" cy="54.2" r="0.3"/><circle cx="470.7" cy="54.2" r="0.3"/><circle cx="473.3" cy="54.2" r="0.3"/><circle cx="475.9" cy="54.2" r="0.3"/><circle cx="478.5" cy="54.2" r="0.3"/><circle cx="481.1" cy="54.2" r="0.3"/><circle cx="483.7" cy="54.2" r="0.3"/><circle cx="486.3" cy="54.2" r="0.3"/><circle cx="488.9" cy="54.2" r="0.3"/><circle cx="444.7" cy="56.8" r="0.3"/><circle cx="447.3" cy="56.8" r="0.3"/><circle cx="449.9" cy="56.8" r="0.3"/><circle cx="452.5" cy="56.8" r="0.3"/><circle cx="455.1" cy="56.8" r="0.3"/><circle cx="457.7" cy="56.8" r="0.3"/><circle cx="460.3" cy="56.8" r="0.3"/><circle cx="462.9" cy="56.8" r="0.3"/><circle cx="465.5" cy="56.8" r="0.3"/><circle cx="468.1" cy="56.8" r="0.3"/><circle cx="470.7" cy="56.8" r="0.3"/><circle cx="473.3" cy="56.8" r="0.3"/><circle cx="475.9" cy="56.8" r="0.3"/><circle cx="478.5" cy="56.8" r="0.3"/><circle cx="481.1" cy="56.8" r="0.3"/><circle cx="483.7" cy="56.8" r="0.3"/><circle cx="486.3" cy="56.8" r="0.3"/><circle cx="488.9" cy="56.8" r="0.3"/><circle cx="442.1" cy="59.4" r="0.3"/><circle cx="444.7" cy="59.4" r="0.3"/><circle cx="447.3" cy="59.4" r="0.3"/><circle cx="449.9" cy="59.4" r="0.3"/><circle cx="452.5" cy="59.4" r="0.3"/><circle cx="455.1" cy="59.4" r="0.3"/><circle cx="457.7" cy="59.4" r="0.3"/><circle cx="460.3" cy="59.4" r="0.3"/><circle cx="462.9" cy="59.4" r="0.3"/><circle cx="465.5" cy="59.4" r="0.3"/><circle cx="468.1" cy="59.4" r="0.3"/><circle cx="470.7" cy="59.4" r="0.3"/><circle cx="473.3" cy="59.4" r="0.3"/><circle cx="475.9" cy="59.4" r="0.3"/><circle cx="478.5" cy="59.4" r="0.3"/><circle cx="481.1" cy="59.4" r="0.3"/><circle cx="483.7" cy="59.4" r="0.3"/><circle cx="486.3" cy="59.4" r="0.3"/><circle cx="488.9" cy="59.4" r="0.3"/><circle cx="439.5" cy="62.0" r="0.3"/><circle cx="442.1" cy="62.0" r="0.3"/><circle cx="444.7" cy="62.0" r="0.3"/><circle cx="447.3" cy="62.0" r="0.3"/><circle cx="449.9" cy="62.0" r="0.3"/><circle cx="452.5" cy="62.0" r="0.3"/><circle cx="455.1" cy="62.0" r="0.3"/><circle cx="457.7" cy="62.0" r="0.3"/><circle cx="460.3" cy="62.0" r="0.3"/><circle cx="462.9" cy="62.0" r="0.3"/><circle cx="465.5" cy="62.0" r="0.3"/><circle cx="468.1" cy="62.0" r="0.3"/><circle cx="470.7" cy="62.0" r="0.3"/><circle cx="473.3" cy="62.0" r="0.3"/><circle cx="475.9" cy="62.0" r="0.3"/><circle cx="478.5" cy="62.0" r="0.3"/><circle cx="481.1" cy="62.0" r="0.3"/><circle cx="483.7" cy="62.0" r="0.3"/><circle cx="486.3" cy="62.0" r="0.3"/><circle cx="488.9" cy="62.0" r="0.3"/><circle cx="436.9" cy="64.6" r="0.3"/><circle cx="439.5" cy="64.6" r="0.3"/><circle cx="442.1" cy="64.6" r="0.3"/><circle cx="444.7" cy="64.6" r="0.3"/><circle cx="447.3" cy="64.6" r="0.3"/><circle cx="449.9" cy="64.6" r="0.3"/><circle cx="452.5" cy="64.6" r="0.3"/><circle cx="455.1" cy="64.6" r="0.3"/><circle cx="457.7" cy="64.6" r="0.3"/><circle cx="460.3" cy="64.6" r="0.3"/><circle cx="462.9" cy="64.6" r="0.3"/><circle cx="465.5" cy="64.6" r="0.3"/><circle cx="468.1" cy="64.6" r="0.3"/><circle cx="470.7" cy="64.6" r="0.3"/><circle cx="473.3" cy="64.6" r="0.3"/><circle cx="475.9" cy="64.6" r="0.3"/><circle cx="478.5" cy="64.6" r="0.3"/><circle cx="481.1" cy="64.6" r="0.3"/><circle cx="483.7" cy="64.6" r="0.3"/><circle cx="486.3" cy="64.6" r="0.3"/><circle cx="488.9" cy="64.6" r="0.3"/><circle cx="434.3" cy="67.2" r="0.3"/><circle cx="436.9" cy="67.2" r="0.3"/><circle cx="439.5" cy="67.2" r="0.3"/><circle cx="442.1" cy="67.2" r="0.3"/><circle cx="444.7" cy="67.2" r="0.3"/><circle cx="447.3" cy="67.2" r="0.3"/><circle cx="449.9" cy="67.2" r="0.3"/><circle cx="452.5" cy="67.2" r="0.3"/><circle cx="455.1" cy="67.2" r="0.3"/><circle cx="457.7" cy="67.2" r="0.3"/><circle cx="460.3" cy="67.2" r="0.3"/><circle cx="462.9" cy="67.2" r="0.3"/><circle cx="465.5" cy="67.2" r="0.3"/><circle cx="468.1" cy="67.2" r="0.3"/><circle cx="470.7" cy="67.2" r="0.3"/><circle cx="473.3" cy="67.2" r="0.3"/><circle cx="475.9" cy="67.2" r="0.3"/><circle cx="478.5" cy="67.2" r="0.3"/><circle cx="481.1" cy="67.2" r="0.3"/><circle cx="483.7" cy="67.2" r="0.3"/><circle cx="486.3" cy="67.2" r="0.3"/><circle cx="488.9" cy="67.2" r="0.3"/><circle cx="431.7" cy="69.8" r="0.3"/><circle cx="434.3" cy="69.8" r="0.3"/><circle cx="436.9" cy="69.8" r="0.3"/><circle cx="439.5" cy="69.8" r="0.3"/><circle cx="442.1" cy="69.8" r="0.3"/><circle cx="444.7" cy="69.8" r="0.3"/><circle cx="447.3" cy="69.8" r="0.3"/><circle cx="449.9" cy="69.8" r="0.3"/><circle cx="452.5" cy="69.8" r="0.3"/><circle cx="455.1" cy="69.8" r="0.3"/><circle cx="457.7" cy="69.8" r="0.3"/><circle cx="460.3" cy="69.8" r="0.3"/><circle cx="462.9" cy="69.8" r="0.3"/><circle cx="465.5" cy="69.8" r="0.3"/><circle cx="468.1" cy="69.8" r="0.3"/><circle cx="470.7" cy="69.8" r="0.3"/><circle cx="473.3" cy="69.8" r="0.3"/><circle cx="475.9" cy="69.8" r="0.3"/><circle cx="478.5" cy="69.8" r="0.3"/><circle cx="481.1" cy="69.8" r="0.3"/><circle cx="483.7" cy="69.8" r="0.3"/><circle cx="486.3" cy="69.8" r="0.3"/><circle cx="488.9" cy="69.8" r="0.3"/><circle cx="429.1" cy="72.4" r="0.3"/><circle cx="431.7" cy="72.4" r="0.3"/><circle cx="434.3" cy="72.4" r="0.3"/><circle cx="436.9" cy="72.4" r="0.3"/><circle cx="439.5" cy="72.4" r="0.3"/><circle cx="442.1" cy="72.4" r="0.3"/><circle cx="444.7" cy="72.4" r="0.3"/><circle cx="447.3" cy="72.4" r="0.3"/><circle cx="449.9" cy="72.4" r="0.3"/><circle cx="452.5" cy="72.4" r="0.3"/><circle cx="455.1" cy="72.4" r="0.3"/><circle cx="457.7" cy="72.4" r="0.3"/><circle cx="460.3" cy="72.4" r="0.3"/><circle cx="462.9" cy="72.4" r="0.3"/><circle cx="465.5" cy="72.4" r="0.3"/><circle cx="468.1" cy="72.4" r="0.3"/><circle cx="470.7" cy="72.4" r="0.3"/><circle cx="473.3" cy="72.4" r="0.3"/><circle cx="475.9" cy="72.4" r="0.3"/><circle cx="478.5" cy="72.4" r="0.3"/><circle cx="481.1" cy="72.4" r="0.3"/><circle cx="483.7" cy="72.4" r="0.3"/><circle cx="486.3" cy="72.4" r="0.3"/><circle cx="488.9" cy="72.4" r="0.3"/><circle cx="429.1" cy="75.0" r="0.3"/><circle cx="431.7" cy="75.0" r="0.3"/><circle cx="434.3" cy="75.0" r="0.3"/><circle cx="436.9" cy="75.0" r="0.3"/><circle cx="439.5" cy="75.0" r="0.3"/><circle cx="442.1" cy="75.0" r="0.3"/><circle cx="444.7" cy="75.0" r="0.3"/><circle cx="447.3" cy="75.0" r="0.3"/><circle cx="449.9" cy="75.0" r="0.3"/><circle cx="452.5" cy="75.0" r="0.3"/><circle cx="455.1" cy="75.0" r="0.3"/><circle cx="457.7" cy="75.0" r="0.3"/><circle cx="460.3" cy="75.0" r="0.3"/><circle cx="462.9" cy="75.0" r="0.3"/><circle cx="465.5" cy="75.0" r="0.3"/><circle cx="468.1" cy="75.0" r="0.3"/><circle cx="470.7" cy="75.0" r="0.3"/><circle cx="473.3" cy="75.0" r="0.3"/><circle cx="475.9" cy="75.0" r="0.3"/><circle cx="478.5" cy="75.0" r="0.3"/><circle cx="481.1" cy="75.0" r="0.3"/><circle cx="483.7" cy="75.0" r="0.3"/><circle cx="486.3" cy="75.0" r="0.3"/><circle cx="488.9" cy="75.0" r="0.3"/><circle cx="431.7" cy="77.6" r="0.3"/><circle cx="434.3" cy="77.6" r="0.3"/><circle cx="436.9" cy="77.6" r="0.3"/><circle cx="439.5" cy="77.6" r="0.3"/><circle cx="442.1" cy="77.6" r="0.3"/><circle cx="444.7" cy="77.6" r="0.3"/><circle cx="447.3" cy="77.6" r="0.3"/><circle cx="449.9" cy="77.6" r="0.3"/><circle cx="452.5" cy="77.6" r="0.3"/><circle cx="455.1" cy="77.6" r="0.3"/><circle cx="457.7" cy="77.6" r="0.3"/><circle cx="460.3" cy="77.6" r="0.3"/><circle cx="462.9" cy="77.6" r="0.3"/><circle cx="465.5" cy="77.6" r="0.3"/><circle cx="468.1" cy="77.6" r="0.3"/><circle cx="470.7" cy="77.6" r="0.3"/><circle cx="473.3" cy="77.6" r="0.3"/><circle cx="475.9" cy="77.6" r="0.3"/><circle cx="478.5" cy="77.6" r="0.3"/><circle cx="481.1" cy="77.6" r="0.3"/><circle cx="483.7" cy="77.6" r="0.3"/><circle cx="486.3" cy="77.6" r="0.3"/><circle cx="488.9" cy="77.6" r="0.3"/><circle cx="434.3" cy="80.2" r="0.3"/><circle cx="436.9" cy="80.2" r="0.3"/><circle cx="439.5" cy="80.2" r="0.3"/><circle cx="442.1" cy="80.2" r="0.3"/><circle cx="444.7" cy="80.2" r="0.3"/><circle cx="447.3" cy="80.2" r="0.3"/><circle cx="449.9" cy="80.2" r="0.3"/><circle cx="452.5" cy="80.2" r="0.3"/><circle cx="455.1" cy="80.2" r="0.3"/><circle cx="457.7" cy="80.2" r="0.3"/><circle cx="460.3" cy="80.2" r="0.3"/><circle cx="462.9" cy="80.2" r="0.3"/><circle cx="465.5" cy="80.2" r="0.3"/><circle cx="468.1" cy="80.2" r="0.3"/><circle cx="470.7" cy="80.2" r="0.3"/><circle cx="473.3" cy="80.2" r="0.3"/><circle cx="475.9" cy="80.2" r="0.3"/><circle cx="478.5" cy="80.2" r="0.3"/><circle cx="481.1" cy="80.2" r="0.3"/><circle cx="483.7" cy="80.2" r="0.3"/><circle cx="486.3" cy="80.2" r="0.3"/><circle cx="488.9" cy="80.2" r="0.3"/><circle cx="436.9" cy="82.8" r="0.3"/><circle cx="439.5" cy="82.8" r="0.3"/><circle cx="442.1" cy="82.8" r="0.3"/><circle cx="444.7" cy="82.8" r="0.3"/><circle cx="447.3" cy="82.8" r="0.3"/><circle cx="449.9" cy="82.8" r="0.3"/><circle cx="452.5" cy="82.8" r="0.3"/><circle cx="455.1" cy="82.8" r="0.3"/><circle cx="457.7" cy="82.8" r="0.3"/><circle cx="460.3" cy="82.8" r="0.3"/><circle cx="462.9" cy="82.8" r="0.3"/><circle cx="465.5" cy="82.8" r="0.3"/><circle cx="468.1" cy="82.8" r="0.3"/><circle cx="470.7" cy="82.8" r="0.3"/><circle cx="473.3" cy="82.8" r="0.3"/><circle cx="475.9" cy="82.8" r="0.3"/><circle cx="478.5" cy="82.8" r="0.3"/><circle cx="481.1" cy="82.8" r="0.3"/><circle cx="483.7" cy="82.8" r="0.3"/><circle cx="486.3" cy="82.8" r="0.3"/><circle cx="488.9" cy="82.8" r="0.3"/></g>
<circle cx="477.7" cy="43.8" r="6.6" fill="#fdeef2" filter="url(#b1)"/>
<g><path d="M482.3,45.0L484.0,45.5" stroke="#f8a0a0" stroke-width="0.7" opacity="1"/><path d="M485.0,45.8L483.8,46.0L484.1,45.0z" fill="#f07878" opacity="1"/><path d="M481.1,47.2L482.3,48.4" stroke="#f8a0a0" stroke-width="0.7" opacity="1"/><path d="M483.1,49.2L481.9,48.7L482.6,48.0z" fill="#f07878" opacity="1"/><path d="M479.0,48.4L479.4,50.1" stroke="#f8a0a0" stroke-width="0.7" opacity="1"/><path d="M479.7,51.1L478.9,50.2L479.9,49.9z" fill="#f07878" opacity="1"/><path d="M476.5,48.4L476.0,50.1" stroke="#f8a0a0" stroke-width="0.7" opacity="1"/><path d="M475.7,51.1L475.5,49.9L476.5,50.2z" fill="#f07878" opacity="1"/><path d="M474.3,47.2L473.1,48.4" stroke="#f8a0a0" stroke-width="0.7" opacity="1"/><path d="M472.3,49.2L472.8,48.0L473.5,48.7z" fill="#f07878" opacity="1"/><path d="M473.1,45.1L471.4,45.5" stroke="#f8a0a0" stroke-width="0.7" opacity="1"/><path d="M470.4,45.8L471.3,45.0L471.6,46.0z" fill="#f07878" opacity="1"/><path d="M473.1,42.6L471.4,42.1" stroke="#f8a0a0" stroke-width="0.7" opacity="1"/><path d="M470.4,41.8L471.6,41.6L471.3,42.6z" fill="#f07878" opacity="1"/><path d="M474.3,40.4L473.1,39.2" stroke="#f8a0a0" stroke-width="0.7" opacity="1"/><path d="M472.3,38.4L473.5,38.9L472.8,39.6z" fill="#f07878" opacity="1"/><path d="M476.4,39.2L476.0,37.5" stroke="#f8a0a0" stroke-width="0.7" opacity="1"/><path d="M475.7,36.5L476.5,37.4L475.5,37.7z" fill="#f07878" opacity="1"/><path d="M478.9,39.2L479.4,37.5" stroke="#f8a0a0" stroke-width="0.7" opacity="1"/><path d="M479.7,36.5L479.9,37.7L478.9,37.4z" fill="#f07878" opacity="1"/><path d="M481.1,40.4L482.3,39.2" stroke="#f8a0a0" stroke-width="0.7" opacity="1"/><path d="M483.1,38.4L482.6,39.6L481.9,38.9z" fill="#f07878" opacity="1"/><path d="M482.3,42.5L484.0,42.1" stroke="#f8a0a0" stroke-width="0.7" opacity="1"/><path d="M485.0,41.8L484.1,42.6L483.8,41.6z" fill="#f07878" opacity="1"/></g>
<circle cx="477.7" cy="43.8" r="3.9" fill="#2a2aee" filter="url(#b1)"/>
<circle cx="477.7" cy="43.8" r="2" fill="#1414e6"/>
</g>
<g>
<rect x="46.6" y="57.8" width="24.2" height="24" fill="none" stroke="#1c1c1c" stroke-width="1.35" stroke-dasharray="2.1 1.5"/>
<path d="M45.7,38.9H66.5" stroke="#ee1c24" stroke-width="1.7"/><path d="M61.3,35.4L67.2,38.9L61.3,42.4" stroke="#ee1c24" stroke-width="1.5" fill="none"/>
<text x="49" y="33" font-size="9" fill="#ee1c24" stroke="#ee1c24" stroke-width="0.38">+<tspan font-style="italic">j</tspan><tspan font-size="5.5" dy="2">e</tspan></text>
<text x="64.6" y="51" font-size="9.4" fill="#1c1c1c" stroke="#1c1c1c" stroke-width="0.38">Close-up</text>
<path d="M69.8,69.2L103.2,55.1" stroke="#111" stroke-width="1.4"/><path d="M96.2,53.6L104.3,54.7L99.8,61.6" stroke="#111" stroke-width="1.4" fill="none"/>
</g>
<circle cx="253.2" cy="59.2" r="11.6" fill="none" stroke="#1a1a1a" stroke-width="1" stroke-dasharray="2 1.3"/>
<circle cx="325" cy="58" r="11.3" fill="none" stroke="#1a1a1a" stroke-width="1" stroke-dasharray="2 1.3"/>
<path d="M265,58.7H309" stroke="#1a1a1a" stroke-width="1" stroke-dasharray="3 1.6"/><path d="M307,55.3L312.6,58.7L307,62.1" stroke="#1a1a1a" stroke-width="1" fill="none"/>
<text x="320" y="30.7" font-size="8.4" fill="#1c1c1c" stroke="#1c1c1c" stroke-width="0.33" text-anchor="middle">Topological</text>
<text x="319.3" y="39.6" font-size="8.4" fill="#1c1c1c" stroke="#1c1c1c" stroke-width="0.33" text-anchor="middle">transition</text>
<g clip-path="url(#cq0)">
<ellipse cx="44.5" cy="134" rx="1.5" ry="1.5" transform="rotate(0 44.5 134)" fill="#f08080" opacity="0.6" filter="url(#b05)"/>
</g>
<g clip-path="url(#cq1)">
<ellipse cx="126" cy="125" rx="7" ry="15" transform="rotate(28 126 125)" fill="#f04858" opacity="0.38" filter="url(#b3)"/>
<ellipse cx="136" cy="107" rx="4" ry="12" transform="rotate(40 136 107)" fill="#f8a0a0" opacity="0.3" filter="url(#b3)"/>
<ellipse cx="127.5" cy="123.5" rx="3.6" ry="7.5" transform="rotate(20 127.5 123.5)" fill="#ec2030" opacity="0.9" filter="url(#b2)"/>
<ellipse cx="146" cy="129" rx="8" ry="12" transform="rotate(5 146 129)" fill="#50a8f4" opacity="0.5" filter="url(#b3)"/>
<ellipse cx="145" cy="128.5" rx="3.6" ry="6.5" transform="rotate(5 145 128.5)" fill="#0c74ec" opacity="1" filter="url(#b2)"/>
<ellipse cx="113" cy="121" rx="2.5" ry="4" transform="rotate(20 113 121)" fill="#90c8f4" opacity="0.35" filter="url(#b2)"/>
</g>
<g clip-path="url(#cq2)">
<ellipse cx="191" cy="122" rx="6" ry="14" transform="rotate(15 191 122)" fill="#f05060" opacity="0.33" filter="url(#b3)"/>
<ellipse cx="192.5" cy="113.5" rx="3.4" ry="7" transform="rotate(15 192.5 113.5)" fill="#e8141e" opacity="1" filter="url(#b2)"/>
<ellipse cx="176" cy="128" rx="3" ry="5" transform="rotate(30 176 128)" fill="#a0d0f4" opacity="0.25" filter="url(#b2)"/>
<path d="M199.2,101.1A17,17 0 0 1 222.4,125.5" transform="rotate(0 209 115)" fill="none" stroke="#8ccaf6" stroke-width="8.5" stroke-linecap="round" opacity="0.5" filter="url(#b3)"/>
<path d="M204.5,98.1A17.5,17.5 0 0 1 223.3,105.0" transform="rotate(0 209 115)" fill="none" stroke="#70bcf4" stroke-width="5" stroke-linecap="round" opacity="0.35" filter="url(#b3)"/>
</g>
<g clip-path="url(#cq3)">
<ellipse cx="258" cy="114" rx="12" ry="4" transform="rotate(-32 258 114)" fill="#f05060" opacity="0.33" filter="url(#b3)"/>
<ellipse cx="250.7" cy="120.5" rx="4" ry="3" transform="rotate(-30 250.7 120.5)" fill="#e8141e" opacity="1" filter="url(#b2)"/>
<ellipse cx="279" cy="126" rx="8" ry="4" transform="rotate(0 279 126)" fill="#a0d8f8" opacity="0.15" filter="url(#b3)"/>
</g>
<g clip-path="url(#cq4)">
<ellipse cx="320" cy="120" rx="14" ry="8" transform="rotate(30 320 120)" fill="#78bcf6" opacity="0.4" filter="url(#b3)"/>
<ellipse cx="321.5" cy="120.5" rx="5" ry="4" transform="rotate(20 321.5 120.5)" fill="#2a8cee" opacity="0.95" filter="url(#b2)"/>
<ellipse cx="311" cy="115" rx="5" ry="4" transform="rotate(0 311 115)" fill="#58b0f0" opacity="0.5" filter="url(#b2)"/>
<ellipse cx="329" cy="128" rx="5" ry="4" transform="rotate(30 329 128)" fill="#58b0f0" opacity="0.45" filter="url(#b2)"/>
<ellipse cx="338" cy="106.5" rx="6" ry="4" transform="rotate(20 338 106.5)" fill="#58b0f0" opacity="0.4" filter="url(#b2)"/>
<ellipse cx="350" cy="123" rx="5" ry="5" transform="rotate(0 350 123)" fill="#58b0f0" opacity="0.2" filter="url(#b2)"/>
<ellipse cx="356" cy="93" rx="9" ry="5" transform="rotate(-40 356 93)" fill="#f08888" opacity="0.5" filter="url(#b3)"/>
<ellipse cx="301" cy="125" rx="3" ry="6" transform="rotate(0 301 125)" fill="#f8a0a0" opacity="0.3" filter="url(#b2)"/>
<path d="M315.0,108.1A23,23 0 0 1 339.2,137.0" transform="rotate(0 317 131)" fill="none" stroke="#f59898" stroke-width="3" stroke-linecap="round" opacity="0.5" filter="url(#b2)"/>
<path d="M326.9,99.9A32,32 0 0 1 346.9,121.7" transform="rotate(0 316 130)" fill="none" stroke="#f8b0b0" stroke-width="2.5" stroke-linecap="round" opacity="0.3" filter="url(#b2)"/>
</g>
<g clip-path="url(#cq5)">
<ellipse cx="421" cy="93" rx="6" ry="7" transform="rotate(20 421 93)" fill="#f07880" opacity="0.6" filter="url(#b3)"/>
<path d="M405.5,134.5A20,20 0 0 1 411.3,96.1" transform="rotate(0 413 116)" fill="none" stroke="#62b2f4" stroke-width="9" stroke-linecap="round" opacity="0.55" filter="url(#b3)"/>
<path d="M394.6,118.9A19,19 0 0 1 409.0,95.4" transform="rotate(0 413 114)" fill="none" stroke="#2c90ee" stroke-width="5.5" stroke-linecap="round" opacity="0.55" filter="url(#b2)"/>
</g>
<ellipse cx="477.5" cy="107.5" rx="9" ry="8.5" fill="#70b8f4" opacity="0.3" filter="url(#b1)"/>
<g filter="url(#b08)"><ellipse cx="477.5" cy="107.5" rx="5.8" ry="4.8" transform="rotate(-35 477.5 107.5)" fill="#d8eefc" stroke="#2a96f0" stroke-width="2.7"/></g>
<path d="M41,3V149M105,3V149M169,3V149M233,3V149M297,3V149M361,3V149M425,3V149M489,3V149M41,3H489M22,21.5H489M22,85H489M22,149H489M22,21.5V149" stroke="#8a9098" stroke-width="0.9" fill="none"/>
<rect x="425" y="85" width="63.5" height="64" fill="none" stroke="#666" stroke-width="1"/>
<text x="73.0" y="16" font-size="9.7" fill="#161616" stroke="#161616" stroke-width="0.40" text-anchor="middle"><tspan font-style="italic">t</tspan> = 0 ns</text>
<text x="137.0" y="16" font-size="9.7" fill="#161616" stroke="#161616" stroke-width="0.40" text-anchor="middle"><tspan font-style="italic">t</tspan> = 0.5 ns</text>
<text x="201.0" y="16" font-size="9.7" fill="#161616" stroke="#161616" stroke-width="0.40" text-anchor="middle"><tspan font-style="italic">t</tspan> = 1.0 ns</text>
<text x="265.0" y="16" font-size="9.7" fill="#161616" stroke="#161616" stroke-width="0.40" text-anchor="middle"><tspan font-style="italic">t</tspan> = 1.5 ns</text>
<text x="329.0" y="16" font-size="9.7" fill="#161616" stroke="#161616" stroke-width="0.40" text-anchor="middle"><tspan font-style="italic">t</tspan> = 1.78 ns</text>
<text x="393.0" y="16" font-size="9.7" fill="#161616" stroke="#161616" stroke-width="0.40" text-anchor="middle"><tspan font-style="italic">t</tspan> = 2 ns</text>
<text x="457.0" y="16" font-size="9.7" fill="#161616" stroke="#161616" stroke-width="0.40" text-anchor="middle"><tspan font-style="italic">t</tspan> = 6 ns</text>
<text x="26" y="15.5" font-size="9.5" fill="#1c1c1c" stroke="#1c1c1c" stroke-width="0.33">(a)</text>
<text transform="translate(35.2,54.8) rotate(-90)" font-size="9.3" fill="#10102e" stroke="#10102e" stroke-width="0.38" text-anchor="middle">Magnetization</text>
<text transform="translate(35.2,118.5) rotate(-90)" font-size="9.3" fill="#161616" stroke="#161616" stroke-width="0.38" text-anchor="middle"><tspan font-style="italic">Q</tspan> density</text>
<rect x="493.8" y="24.3" width="5.2" height="51.8" fill="url(#cbm)"/>
<rect x="493.8" y="87.5" width="5.2" height="52.2" fill="url(#cbq)"/>
<text x="502" y="29.2" font-size="7" font-weight="bold" fill="#222">+1</text>
<text x="502.5" y="49.5" font-size="8" fill="#222" stroke="#222" stroke-width="0.33" font-style="italic">m<tspan font-size="5" dy="1.5">z</tspan></text>
<text x="503" y="74.6" font-size="7" font-weight="bold" fill="#222">-1</text>
<text x="502.8" y="91" font-size="7.6" font-weight="bold" fill="#222" font-family='"Liberation Serif", "Times New Roman", serif'>-0.3</text>
<text x="504.2" y="115" font-size="8.6" font-weight="bold" fill="#222" font-style="italic" font-family='"Liberation Serif", "Times New Roman", serif'>Q</text>
<text x="502.5" y="145" font-size="7.6" font-weight="bold" fill="#222" font-family='"Liberation Serif", "Times New Roman", serif'>+0.3</text>
<clipPath id="pc"><rect x="42.5" y="154.7" width="446.5" height="97.0"/></clipPath>
<g clip-path="url(#pc)">
<path d="M42.9,173.1L51.8,173.1L60.7,173.1L69.6,173.1L78.5,173.1L87.4,173.1L96.4,172.9L105.3,172.6L114.2,172.4L123.1,172.2L132.0,171.9L140.9,171.7L149.8,171.5L158.7,171.3L167.6,171.0L176.6,170.8L185.5,170.6L194.4,170.3L203.3,170.1L212.2,169.9L221.1,169.7L230.0,169.4L238.9,169.2L247.8,169.0L256.7,168.7L265.6,168.5L274.6,168.8L283.5,169.2L292.4,169.6L301.3,169.9L310.2,170.7L319.1,171.1L328.0,171.4L336.9,171.8L345.8,172.9L354.8,175.2L363.7,180.4L372.6,210.0L381.5,234.6L390.4,238.8L399.3,239.5L408.2,239.5L417.1,239.1L426.0,239.2L434.9,239.2L443.8,239.2L452.8,239.2L461.7,239.2L470.6,239.2L479.5,239.2L488.4,239.2" stroke="#d81028" stroke-width="0.9" fill="none"/>
<circle cx="42.9" cy="173.1" r="4.3" fill="url(#sph)"/>
<circle cx="51.8" cy="173.1" r="4.3" fill="url(#sph)"/>
<circle cx="60.7" cy="173.1" r="4.3" fill="url(#sph)"/>
<circle cx="69.6" cy="173.1" r="4.3" fill="url(#sph)"/>
<circle cx="78.5" cy="173.1" r="4.3" fill="url(#sph)"/>
<circle cx="87.4" cy="173.1" r="4.3" fill="url(#sph)"/>
<circle cx="96.4" cy="172.9" r="4.3" fill="url(#sph)"/>
<circle cx="105.3" cy="172.6" r="4.3" fill="url(#sph)"/>
<circle cx="114.2" cy="172.4" r="4.3" fill="url(#sph)"/>
<circle cx="123.1" cy="172.2" r="4.3" fill="url(#sph)"/>
<circle cx="132.0" cy="171.9" r="4.3" fill="url(#sph)"/>
<circle cx="140.9" cy="171.7" r="4.3" fill="url(#sph)"/>
<circle cx="149.8" cy="171.5" r="4.3" fill="url(#sph)"/>
<circle cx="158.7" cy="171.3" r="4.3" fill="url(#sph)"/>
<circle cx="167.6" cy="171.0" r="4.3" fill="url(#sph)"/>
<circle cx="176.6" cy="170.8" r="4.3" fill="url(#sph)"/>
<circle cx="185.5" cy="170.6" r="4.3" fill="url(#sph)"/>
<circle cx="194.4" cy="170.3" r="4.3" fill="url(#sph)"/>
<circle cx="203.3" cy="170.1" r="4.3" fill="url(#sph)"/>
<circle cx="212.2" cy="169.9" r="4.3" fill="url(#sph)"/>
<circle cx="221.1" cy="169.7" r="4.3" fill="url(#sph)"/>
<circle cx="230.0" cy="169.4" r="4.3" fill="url(#sph)"/>
<circle cx="238.9" cy="169.2" r="4.3" fill="url(#sph)"/>
<circle cx="247.8" cy="169.0" r="4.3" fill="url(#sph)"/>
<circle cx="256.7" cy="168.7" r="4.3" fill="url(#sph)"/>
<circle cx="265.6" cy="168.5" r="4.3" fill="url(#sph)"/>
<circle cx="274.6" cy="168.8" r="4.3" fill="url(#sph)"/>
<circle cx="283.5" cy="169.2" r="4.3" fill="url(#sph)"/>
<circle cx="292.4" cy="169.6" r="4.3" fill="url(#sph)"/>
<circle cx="301.3" cy="169.9" r="4.3" fill="url(#sph)"/>
<circle cx="310.2" cy="170.7" r="4.3" fill="url(#sph)"/>
<circle cx="319.1" cy="171.1" r="4.3" fill="url(#sph)"/>
<circle cx="328.0" cy="171.4" r="4.3" fill="url(#sph)"/>
<circle cx="336.9" cy="171.8" r="4.3" fill="url(#sph)"/>
<circle cx="345.8" cy="172.9" r="4.3" fill="url(#sph)"/>
<circle cx="354.8" cy="175.2" r="4.3" fill="url(#sph)"/>
<circle cx="363.7" cy="180.4" r="4.3" fill="url(#sph)"/>
<circle cx="372.6" cy="210.0" r="4.3" fill="url(#sph)"/>
<circle cx="381.5" cy="234.6" r="4.3" fill="url(#sph)"/>
<circle cx="390.4" cy="238.8" r="4.3" fill="url(#sph)"/>
<circle cx="399.3" cy="239.5" r="4.3" fill="url(#sph)"/>
<circle cx="408.2" cy="239.5" r="4.3" fill="url(#sph)"/>
<circle cx="417.1" cy="239.1" r="4.3" fill="url(#sph)"/>
<circle cx="426.0" cy="239.2" r="4.3" fill="url(#sph)"/>
<circle cx="434.9" cy="239.2" r="4.3" fill="url(#sph)"/>
<circle cx="443.8" cy="239.2" r="4.3" fill="url(#sph)"/>
<circle cx="452.8" cy="239.2" r="4.3" fill="url(#sph)"/>
<circle cx="461.7" cy="239.2" r="4.3" fill="url(#sph)"/>
<circle cx="470.6" cy="239.2" r="4.3" fill="url(#sph)"/>
<circle cx="479.5" cy="239.2" r="4.3" fill="url(#sph)"/>
<circle cx="488.4" cy="239.2" r="4.3" fill="url(#sph)"/>
</g>
<path d="M265.6,154.7V251.7" stroke="#3a76be" stroke-width="1.4" stroke-dasharray="4 2.8"/>
<rect x="42.5" y="154.7" width="446.5" height="97.0" fill="none" stroke="#111" stroke-width="1.3"/>
<path d="M42.5,154.7v6.3M42.5,251.7v-6.3M87.2,154.7v3.3M87.2,251.7v-3.3M131.8,154.7v6.3M131.8,251.7v-6.3M176.5,154.7v3.3M176.5,251.7v-3.3M221.1,154.7v6.3M221.1,251.7v-6.3M265.8,154.7v3.3M265.8,251.7v-3.3M310.4,154.7v6.3M310.4,251.7v-6.3M355.1,154.7v3.3M355.1,251.7v-3.3M399.7,154.7v6.3M399.7,251.7v-6.3M444.3,154.7v3.3M444.3,251.7v-3.3M489.0,154.7v6.3M489.0,251.7v-6.3M42.5,170.0h6.8M489,170.0h-6.8M42.5,188.8h3.5M489,188.8h-3.5M42.5,207.5h6.8M489,207.5h-6.8M42.5,226.2h3.5M489,226.2h-3.5M42.5,245.0h6.8M489,245.0h-6.8" stroke="#111" stroke-width="1.2"/>
<text x="42.5" y="267.3" font-size="9.1" fill="#1c1c1c" stroke="#1c1c1c" stroke-width="0.33" text-anchor="middle">1.0</text>
<text x="131.8" y="267.3" font-size="9.1" fill="#1c1c1c" stroke="#1c1c1c" stroke-width="0.33" text-anchor="middle">1.2</text>
<text x="221.1" y="267.3" font-size="9.1" fill="#1c1c1c" stroke="#1c1c1c" stroke-width="0.33" text-anchor="middle">1.4</text>
<text x="310.4" y="267.3" font-size="9.1" fill="#1c1c1c" stroke="#1c1c1c" stroke-width="0.33" text-anchor="middle">1.6</text>
<text x="399.7" y="267.3" font-size="9.1" fill="#1c1c1c" stroke="#1c1c1c" stroke-width="0.33" text-anchor="middle">1.8</text>
<text x="489.0" y="267.3" font-size="9.1" fill="#1c1c1c" stroke="#1c1c1c" stroke-width="0.33" text-anchor="middle">2.0</text>
<text x="35.3" y="173.3" font-size="9.2" fill="#1c1c1c" stroke="#1c1c1c" stroke-width="0.33" text-anchor="end">0.0</text>
<text x="35.3" y="210.8" font-size="9.2" fill="#1c1c1c" stroke="#1c1c1c" stroke-width="0.33" text-anchor="end">-0.5</text>
<text x="35.3" y="248.3" font-size="9.2" fill="#1c1c1c" stroke="#1c1c1c" stroke-width="0.33" text-anchor="end">-1.0</text>
<text x="265.5" y="278" font-size="9.2" fill="#1c1c1c" stroke="#1c1c1c" stroke-width="0.33" text-anchor="middle"><tspan font-style="italic">t</tspan> (ns)</text>
<text transform="translate(10.5,203) rotate(-90)" font-size="9" fill="#1c1c1c" stroke="#1c1c1c" stroke-width="0.33" text-anchor="middle"><tspan font-style="italic">Q</tspan> (topological charge)</text>
<text x="26.3" y="161.3" font-size="9.4" fill="#1c1c1c" stroke="#1c1c1c" stroke-width="0.28">(b)</text>
<g filter="url(#soft)"><ellipse cx="154.7" cy="175.3" rx="23.7" ry="16" fill="#b6aaa8"/><ellipse cx="154.7" cy="172.70000000000002" rx="16.352999999999998" ry="10.559999999999999" fill="#f4a682" filter="url(#b08)"/><ellipse cx="154.2" cy="171.70000000000002" rx="11.139" ry="7.36" fill="#f07884" filter="url(#b05)"/><ellipse cx="153.89999999999998" cy="171.10000000000002" rx="8.769" ry="5.84" fill="#6c6cff" filter="url(#b05)"/><path d="M177.9,175.2v3.2" stroke="#1c161c" stroke-width="1"/><path d="M176.9,178.5v3.2" stroke="#1c161c" stroke-width="1"/><path d="M174.9,181.5v3.2" stroke="#1c161c" stroke-width="1"/><path d="M172.0,184.1v3.2" stroke="#1c161c" stroke-width="1"/><path d="M168.4,186.4v3.2" stroke="#1c161c" stroke-width="1"/><path d="M164.2,188.0v3.2" stroke="#1c161c" stroke-width="1"/><path d="M159.6,189.0v3.2" stroke="#1c161c" stroke-width="1"/><path d="M154.7,189.4v3.2" stroke="#1c161c" stroke-width="1"/><path d="M149.8,189.0v3.2" stroke="#1c161c" stroke-width="1"/><path d="M145.2,188.0v3.2" stroke="#1c161c" stroke-width="1"/><path d="M141.0,186.4v3.2" stroke="#1c161c" stroke-width="1"/><path d="M137.4,184.1v3.2" stroke="#1c161c" stroke-width="1"/><path d="M134.5,181.5v3.2" stroke="#1c161c" stroke-width="1"/><path d="M132.5,178.5v3.2" stroke="#1c161c" stroke-width="1"/><path d="M131.5,175.2v3.2" stroke="#1c161c" stroke-width="1"/><path d="M131.5,172.0v3.2" stroke="#1c161c" stroke-width="1"/><path d="M132.5,168.7v3.2" stroke="#1c161c" stroke-width="1"/><path d="M134.5,165.7v3.2" stroke="#1c161c" stroke-width="1"/><path d="M137.4,163.1v3.2" stroke="#1c161c" stroke-width="1"/><path d="M141.0,160.8v3.2" stroke="#1c161c" stroke-width="1"/><path d="M145.2,159.2v3.2" stroke="#1c161c" stroke-width="1"/><path d="M149.8,158.2v3.2" stroke="#1c161c" stroke-width="1"/><path d="M154.7,157.8v3.2" stroke="#1c161c" stroke-width="1"/><path d="M159.6,158.2v3.2" stroke="#1c161c" stroke-width="1"/><path d="M164.2,159.2v3.2" stroke="#1c161c" stroke-width="1"/><path d="M168.4,160.8v3.2" stroke="#1c161c" stroke-width="1"/><path d="M172.0,163.1v3.2" stroke="#1c161c" stroke-width="1"/><path d="M174.9,165.7v3.2" stroke="#1c161c" stroke-width="1"/><path d="M176.9,168.7v3.2" stroke="#1c161c" stroke-width="1"/><path d="M177.9,172.0v3.2" stroke="#1c161c" stroke-width="1"/><path d="M153.5,187.4L151.1,186.2" stroke="#2a1c20" stroke-width="0.8" opacity="0.85"/><path d="M147.2,186.4L145.4,184.8" stroke="#2a1c20" stroke-width="0.8" opacity="0.85"/><path d="M141.7,184.0L140.8,182.2" stroke="#2a1c20" stroke-width="0.8" opacity="0.85"/><path d="M137.6,180.6L137.7,178.7" stroke="#2a1c20" stroke-width="0.8" opacity="0.85"/><path d="M135.3,176.5L136.4,174.7" stroke="#2a1c20" stroke-width="0.8" opacity="0.85"/><path d="M135.2,172.1L137.1,170.7" stroke="#2a1c20" stroke-width="0.8" opacity="0.85"/><path d="M137.2,168.0L139.8,167.0" stroke="#2a1c20" stroke-width="0.8" opacity="0.85"/><path d="M141.0,164.5L144.0,164.1" stroke="#2a1c20" stroke-width="0.8" opacity="0.85"/><path d="M146.4,162.0L149.4,162.3" stroke="#2a1c20" stroke-width="0.8" opacity="0.85"/><path d="M152.7,160.9L155.3,161.7" stroke="#2a1c20" stroke-width="0.8" opacity="0.85"/><path d="M159.1,161.2L161.2,162.5" stroke="#2a1c20" stroke-width="0.8" opacity="0.85"/><path d="M165.1,162.9L166.4,164.6" stroke="#2a1c20" stroke-width="0.8" opacity="0.85"/><path d="M170.0,165.8L170.4,167.7" stroke="#2a1c20" stroke-width="0.8" opacity="0.85"/><path d="M173.2,169.6L172.6,171.4" stroke="#2a1c20" stroke-width="0.8" opacity="0.85"/><path d="M174.4,173.9L172.9,175.5" stroke="#2a1c20" stroke-width="0.8" opacity="0.85"/><path d="M173.5,178.2L171.2,179.4" stroke="#2a1c20" stroke-width="0.8" opacity="0.85"/><path d="M170.5,182.1L167.7,182.8" stroke="#2a1c20" stroke-width="0.8" opacity="0.85"/><path d="M165.8,185.1L162.8,185.2" stroke="#2a1c20" stroke-width="0.8" opacity="0.85"/><path d="M159.9,186.9L157.1,186.4" stroke="#2a1c20" stroke-width="0.8" opacity="0.85"/><path d="M159.5,182.7L156.6,182.2" stroke="#2a1c20" stroke-width="0.8" opacity="0.85"/><path d="M152.8,183.1L150.6,181.9" stroke="#2a1c20" stroke-width="0.8" opacity="0.85"/><path d="M146.6,181.5L145.4,179.8" stroke="#2a1c20" stroke-width="0.8" opacity="0.85"/><path d="M141.9,178.3L142.0,176.4" stroke="#2a1c20" stroke-width="0.8" opacity="0.85"/><path d="M139.8,174.1L141.2,172.4" stroke="#2a1c20" stroke-width="0.8" opacity="0.85"/><path d="M140.6,169.6L143.0,168.5" stroke="#2a1c20" stroke-width="0.8" opacity="0.85"/><path d="M144.2,165.8L147.2,165.5" stroke="#2a1c20" stroke-width="0.8" opacity="0.85"/><path d="M149.9,163.5L152.8,164.0" stroke="#2a1c20" stroke-width="0.8" opacity="0.85"/><path d="M156.6,163.1L158.8,164.3" stroke="#2a1c20" stroke-width="0.8" opacity="0.85"/><path d="M162.8,164.7L164.0,166.4" stroke="#2a1c20" stroke-width="0.8" opacity="0.85"/><path d="M167.5,167.9L167.4,169.8" stroke="#2a1c20" stroke-width="0.8" opacity="0.85"/><path d="M169.6,172.1L168.2,173.8" stroke="#2a1c20" stroke-width="0.8" opacity="0.85"/><path d="M168.8,176.6L166.4,177.7" stroke="#2a1c20" stroke-width="0.8" opacity="0.85"/><path d="M165.2,180.4L162.2,180.7" stroke="#2a1c20" stroke-width="0.8" opacity="0.85"/><path d="M161.2,177.9L158.2,177.9" stroke="#2a1c20" stroke-width="0.8" opacity="0.85"/><path d="M154.1,179.3L151.8,178.1" stroke="#2a1c20" stroke-width="0.8" opacity="0.85"/><path d="M147.4,177.3L146.8,175.5" stroke="#2a1c20" stroke-width="0.8" opacity="0.85"/><path d="M144.0,172.9L145.5,171.3" stroke="#2a1c20" stroke-width="0.8" opacity="0.85"/><path d="M145.7,168.1L148.5,167.4" stroke="#2a1c20" stroke-width="0.8" opacity="0.85"/><path d="M151.6,165.2L154.4,165.8" stroke="#2a1c20" stroke-width="0.8" opacity="0.85"/><path d="M158.9,165.5L160.5,167.1" stroke="#2a1c20" stroke-width="0.8" opacity="0.85"/><path d="M164.3,168.9L163.8,170.8" stroke="#2a1c20" stroke-width="0.8" opacity="0.85"/><path d="M165.2,173.8L162.9,175.0" stroke="#2a1c20" stroke-width="0.8" opacity="0.85"/><path d="M159.4,172.1L157.1,172.6" stroke="#1c1ca8" stroke-width="0.9"/><path d="M156.2,174.7L154.2,173.7" stroke="#1c1ca8" stroke-width="0.9"/><path d="M151.2,174.6L151.1,172.8" stroke="#1c1ca8" stroke-width="0.9"/><path d="M148.3,171.8L150.1,170.7" stroke="#1c1ca8" stroke-width="0.9"/><path d="M149.6,168.5L151.9,168.9" stroke="#1c1ca8" stroke-width="0.9"/><path d="M154.2,167.2L155.3,168.7" stroke="#1c1ca8" stroke-width="0.9"/><path d="M158.5,168.7L157.6,170.4" stroke="#1c1ca8" stroke-width="0.9"/></g>
<g filter="url(#soft)"><ellipse cx="443.8" cy="232" rx="24.5" ry="17.3" fill="#b6aaa8"/><ellipse cx="443.8" cy="229.4" rx="18.865000000000002" ry="12.802" fill="#f4a682" filter="url(#b08)"/><ellipse cx="443.3" cy="228.4" rx="11.514999999999999" ry="7.958000000000001" fill="#f07884" filter="url(#b05)"/><ellipse cx="443.0" cy="227.8" rx="9.065" ry="6.3145" fill="#6c6cff" filter="url(#b05)"/><path d="M467.8,232.1v3.2" stroke="#1c161c" stroke-width="1"/><path d="M466.8,235.6v3.2" stroke="#1c161c" stroke-width="1"/><path d="M464.7,238.8v3.2" stroke="#1c161c" stroke-width="1"/><path d="M461.7,241.7v3.2" stroke="#1c161c" stroke-width="1"/><path d="M458.0,244.1v3.2" stroke="#1c161c" stroke-width="1"/><path d="M453.6,245.9v3.2" stroke="#1c161c" stroke-width="1"/><path d="M448.8,247.0v3.2" stroke="#1c161c" stroke-width="1"/><path d="M443.8,247.3v3.2" stroke="#1c161c" stroke-width="1"/><path d="M438.8,247.0v3.2" stroke="#1c161c" stroke-width="1"/><path d="M434.0,245.9v3.2" stroke="#1c161c" stroke-width="1"/><path d="M429.6,244.1v3.2" stroke="#1c161c" stroke-width="1"/><path d="M425.9,241.7v3.2" stroke="#1c161c" stroke-width="1"/><path d="M422.9,238.8v3.2" stroke="#1c161c" stroke-width="1"/><path d="M420.8,235.6v3.2" stroke="#1c161c" stroke-width="1"/><path d="M419.8,232.1v3.2" stroke="#1c161c" stroke-width="1"/><path d="M419.8,228.5v3.2" stroke="#1c161c" stroke-width="1"/><path d="M420.8,225.0v3.2" stroke="#1c161c" stroke-width="1"/><path d="M422.9,221.8v3.2" stroke="#1c161c" stroke-width="1"/><path d="M425.9,218.9v3.2" stroke="#1c161c" stroke-width="1"/><path d="M429.6,216.5v3.2" stroke="#1c161c" stroke-width="1"/><path d="M434.0,214.7v3.2" stroke="#1c161c" stroke-width="1"/><path d="M438.8,213.6v3.2" stroke="#1c161c" stroke-width="1"/><path d="M443.8,213.3v3.2" stroke="#1c161c" stroke-width="1"/><path d="M448.8,213.6v3.2" stroke="#1c161c" stroke-width="1"/><path d="M453.6,214.7v3.2" stroke="#1c161c" stroke-width="1"/><path d="M458.0,216.5v3.2" stroke="#1c161c" stroke-width="1"/><path d="M461.7,218.9v3.2" stroke="#1c161c" stroke-width="1"/><path d="M464.7,221.8v3.2" stroke="#1c161c" stroke-width="1"/><path d="M466.8,225.0v3.2" stroke="#1c161c" stroke-width="1"/><path d="M467.8,228.5v3.2" stroke="#1c161c" stroke-width="1"/><path d="M441.3,245.8L441.3,243.2" stroke="#2a1c20" stroke-width="0.8" opacity="0.85"/><path d="M435.1,244.5L435.1,241.9" stroke="#2a1c20" stroke-width="0.8" opacity="0.85"/><path d="M429.9,241.8L429.9,239.2" stroke="#2a1c20" stroke-width="0.8" opacity="0.85"/><path d="M426.2,238.1L426.2,235.5" stroke="#2a1c20" stroke-width="0.8" opacity="0.85"/><path d="M424.3,233.8L424.3,231.2" stroke="#2a1c20" stroke-width="0.8" opacity="0.85"/><path d="M424.6,229.2L424.6,226.6" stroke="#2a1c20" stroke-width="0.8" opacity="0.85"/><path d="M427.0,225.0L427.0,222.4" stroke="#2a1c20" stroke-width="0.8" opacity="0.85"/><path d="M431.2,221.5L431.2,218.9" stroke="#2a1c20" stroke-width="0.8" opacity="0.85"/><path d="M436.8,219.2L436.8,216.6" stroke="#2a1c20" stroke-width="0.8" opacity="0.85"/><path d="M443.1,218.3L443.1,215.7" stroke="#2a1c20" stroke-width="0.8" opacity="0.85"/><path d="M449.5,218.9L449.5,216.3" stroke="#2a1c20" stroke-width="0.8" opacity="0.85"/><path d="M455.3,220.9L455.3,218.3" stroke="#2a1c20" stroke-width="0.8" opacity="0.85"/><path d="M459.8,224.1L459.8,221.5" stroke="#2a1c20" stroke-width="0.8" opacity="0.85"/><path d="M462.6,228.2L462.6,225.6" stroke="#2a1c20" stroke-width="0.8" opacity="0.85"/><path d="M463.4,232.7L463.4,230.1" stroke="#2a1c20" stroke-width="0.8" opacity="0.85"/><path d="M462.0,237.2L462.0,234.6" stroke="#2a1c20" stroke-width="0.8" opacity="0.85"/><path d="M458.7,241.1L458.7,238.5" stroke="#2a1c20" stroke-width="0.8" opacity="0.85"/><path d="M453.8,244.0L453.8,241.4" stroke="#2a1c20" stroke-width="0.8" opacity="0.85"/><path d="M447.7,245.7L447.7,243.1" stroke="#2a1c20" stroke-width="0.8" opacity="0.85"/><path d="M447.2,241.2L447.2,238.6" stroke="#2a1c20" stroke-width="0.8" opacity="0.85"/><path d="M440.7,241.2L440.7,238.6" stroke="#2a1c20" stroke-width="0.8" opacity="0.85"/><path d="M434.8,239.3L434.8,236.7" stroke="#2a1c20" stroke-width="0.8" opacity="0.85"/><path d="M430.6,235.7L430.6,233.1" stroke="#2a1c20" stroke-width="0.8" opacity="0.85"/><path d="M429.1,231.2L429.1,228.6" stroke="#2a1c20" stroke-width="0.8" opacity="0.85"/><path d="M430.5,226.7L430.5,224.1" stroke="#2a1c20" stroke-width="0.8" opacity="0.85"/><path d="M434.5,223.1L434.5,220.5" stroke="#2a1c20" stroke-width="0.8" opacity="0.85"/><path d="M440.4,221.0L440.4,218.4" stroke="#2a1c20" stroke-width="0.8" opacity="0.85"/><path d="M446.9,221.0L446.9,218.4" stroke="#2a1c20" stroke-width="0.8" opacity="0.85"/><path d="M452.8,222.9L452.8,220.3" stroke="#2a1c20" stroke-width="0.8" opacity="0.85"/><path d="M457.0,226.5L457.0,223.9" stroke="#2a1c20" stroke-width="0.8" opacity="0.85"/><path d="M458.5,231.0L458.5,228.4" stroke="#2a1c20" stroke-width="0.8" opacity="0.85"/><path d="M457.1,235.5L457.1,232.9" stroke="#2a1c20" stroke-width="0.8" opacity="0.85"/><path d="M453.1,239.1L453.1,236.5" stroke="#2a1c20" stroke-width="0.8" opacity="0.85"/><path d="M448.9,236.4L448.9,233.8" stroke="#2a1c20" stroke-width="0.8" opacity="0.85"/><path d="M442.0,237.3L442.0,234.7" stroke="#2a1c20" stroke-width="0.8" opacity="0.85"/><path d="M435.9,234.8L435.9,232.2" stroke="#2a1c20" stroke-width="0.8" opacity="0.85"/><path d="M433.5,230.1L433.5,227.5" stroke="#2a1c20" stroke-width="0.8" opacity="0.85"/><path d="M435.9,225.4L435.9,222.8" stroke="#2a1c20" stroke-width="0.8" opacity="0.85"/><path d="M442.0,222.9L442.0,220.3" stroke="#2a1c20" stroke-width="0.8" opacity="0.85"/><path d="M449.0,223.8L449.0,221.2" stroke="#2a1c20" stroke-width="0.8" opacity="0.85"/><path d="M453.5,227.6L453.5,225.0" stroke="#2a1c20" stroke-width="0.8" opacity="0.85"/><path d="M453.5,232.6L453.5,230.0" stroke="#2a1c20" stroke-width="0.8" opacity="0.85"/><path d="M447.5,230.4L447.5,227.8" stroke="#1c1ca8" stroke-width="0.9"/><path d="M444.3,232.4L444.3,229.8" stroke="#1c1ca8" stroke-width="0.9"/><path d="M440.1,231.9L440.1,229.3" stroke="#1c1ca8" stroke-width="0.9"/><path d="M438.1,229.3L438.1,226.7" stroke="#1c1ca8" stroke-width="0.9"/><path d="M439.8,226.5L439.8,223.9" stroke="#1c1ca8" stroke-width="0.9"/><path d="M443.9,225.7L443.9,223.1" stroke="#1c1ca8" stroke-width="0.9"/><path d="M447.3,227.4L447.3,224.8" stroke="#1c1ca8" stroke-width="0.9"/><path d="M443.0,226.0v3.4" stroke="#1c1ca8" stroke-width="0.9"/></g>
<text x="156" y="204.8" font-size="9.2" fill="#1c1c1c" stroke="#1c1c1c" stroke-width="0.33" text-anchor="middle"><tspan font-style="italic">Q</tspan> = 0</text>
<text x="444" y="210" font-size="9.2" fill="#1c1c1c" stroke="#1c1c1c" stroke-width="0.33" text-anchor="middle"><tspan font-style="italic">Q</tspan> = -1</text>
<g transform="translate(388.5,204.5) rotate(72)" font-size="7.7" fill="#1c1c1c" stroke="#1c1c1c" stroke-width="0.28" text-anchor="middle"><text x="-0.5" y="-2.8">Topological</text><text x="0.5" y="7.9">transition</text></g>
</g>
</svg>
</body></html>
